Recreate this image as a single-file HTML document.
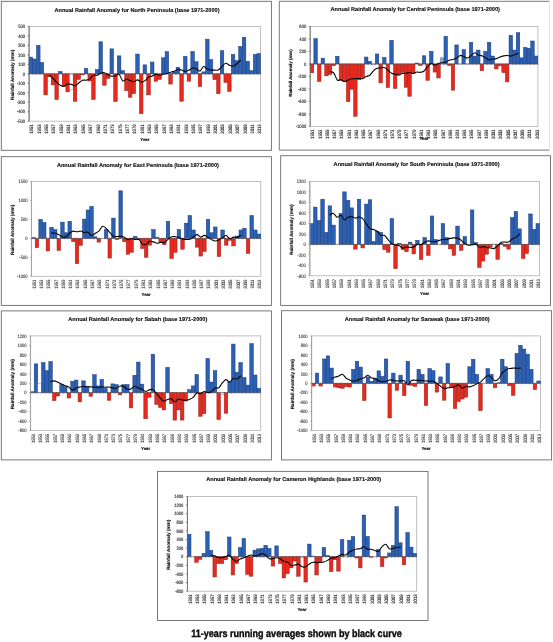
<!DOCTYPE html>
<html><head><meta charset="utf-8"><title>Annual Rainfall Anomaly</title>
<style>html,body{margin:0;padding:0;background:#fff}body{width:553px;height:642px;position:relative;overflow:hidden}</style></head>
<body>
<svg width="553" height="642" viewBox="0 0 553 642" style="display:block;position:absolute;left:0;top:0" font-family="Liberation Sans, Arial, sans-serif" text-rendering="geometricPrecision">
<rect width="553" height="642" fill="#fff"/>
<defs><filter id="sb" x="-5%" y="-5%" width="110%" height="110%"><feGaussianBlur stdDeviation="0.28"/></filter></defs>
<g><rect x="1.3" y="1.3" width="270.1" height="149" fill="#fff" stroke="#6a6a6a" stroke-width="0.9"/><rect x="29.1" y="26.5" width="231.5" height="94.7" fill="#fff" stroke="#b0b0b0" stroke-width="0.8"/><g><rect x="29.15" y="57.09" width="3.57" height="16.76" fill="#2b60b4" stroke="#183a78" stroke-width="0.5"/><rect x="32.82" y="58.98" width="3.57" height="14.87" fill="#2b60b4" stroke="#183a78" stroke-width="0.5"/><rect x="36.5" y="45.35" width="3.57" height="28.5" fill="#2b60b4" stroke="#183a78" stroke-width="0.5"/><rect x="40.17" y="62.49" width="3.57" height="11.36" fill="#2b60b4" stroke="#183a78" stroke-width="0.5"/><rect x="43.85" y="73.85" width="3.57" height="21.02" fill="#e8291e" stroke="#9c1f18" stroke-width="0.5"/><rect x="47.52" y="73.85" width="3.57" height="2.84" fill="#e8291e" stroke="#9c1f18" stroke-width="0.5"/><rect x="51.2" y="73.85" width="3.57" height="10.99" fill="#e8291e" stroke="#9c1f18" stroke-width="0.5"/><rect x="54.87" y="73.85" width="3.57" height="25.76" fill="#e8291e" stroke="#9c1f18" stroke-width="0.5"/><rect x="58.55" y="71.39" width="3.57" height="2.46" fill="#2b60b4" stroke="#183a78" stroke-width="0.5"/><rect x="62.22" y="73.85" width="3.57" height="12.12" fill="#e8291e" stroke="#9c1f18" stroke-width="0.5"/><rect x="65.9" y="73.85" width="3.57" height="17.99" fill="#e8291e" stroke="#9c1f18" stroke-width="0.5"/><rect x="69.57" y="73.85" width="3.57" height="15.63" fill="#fff" stroke="#8a8a8a" stroke-width="0.5"/><rect x="73.25" y="73.85" width="3.57" height="27.46" fill="#e8291e" stroke="#9c1f18" stroke-width="0.5"/><rect x="76.92" y="73.85" width="3.57" height="5.59" fill="#e8291e" stroke="#9c1f18" stroke-width="0.5"/><rect x="80.59" y="73.85" width="3.57" height="1.04" fill="#e8291e" stroke="#9c1f18" stroke-width="0.5"/><rect x="84.27" y="68.36" width="3.57" height="5.49" fill="#2b60b4" stroke="#183a78" stroke-width="0.5"/><rect x="87.94" y="73.85" width="3.57" height="7.1" fill="#e8291e" stroke="#9c1f18" stroke-width="0.5"/><rect x="91.62" y="73.85" width="3.57" height="25.57" fill="#e8291e" stroke="#9c1f18" stroke-width="0.5"/><rect x="95.29" y="69.49" width="3.57" height="4.36" fill="#2b60b4" stroke="#183a78" stroke-width="0.5"/><rect x="98.97" y="41.75" width="3.57" height="32.1" fill="#2b60b4" stroke="#183a78" stroke-width="0.5"/><rect x="102.64" y="73.85" width="3.57" height="11.36" fill="#e8291e" stroke="#9c1f18" stroke-width="0.5"/><rect x="106.32" y="73.85" width="3.57" height="4.64" fill="#e8291e" stroke="#9c1f18" stroke-width="0.5"/><rect x="109.99" y="48.85" width="3.57" height="25" fill="#2b60b4" stroke="#183a78" stroke-width="0.5"/><rect x="113.67" y="73.85" width="3.57" height="27.65" fill="#e8291e" stroke="#9c1f18" stroke-width="0.5"/><rect x="117.34" y="55.86" width="3.57" height="17.99" fill="#2b60b4" stroke="#183a78" stroke-width="0.5"/><rect x="121.02" y="70.72" width="3.57" height="3.13" fill="#2b60b4" stroke="#183a78" stroke-width="0.5"/><rect x="124.69" y="73.85" width="3.57" height="16.86" fill="#e8291e" stroke="#9c1f18" stroke-width="0.5"/><rect x="128.36" y="73.85" width="3.57" height="23.39" fill="#e8291e" stroke="#9c1f18" stroke-width="0.5"/><rect x="132.04" y="73.85" width="3.57" height="19.89" fill="#e8291e" stroke="#9c1f18" stroke-width="0.5"/><rect x="135.71" y="54.06" width="3.57" height="19.79" fill="#2b60b4" stroke="#183a78" stroke-width="0.5"/><rect x="139.39" y="73.85" width="3.57" height="39.87" fill="#e8291e" stroke="#9c1f18" stroke-width="0.5"/><rect x="143.06" y="64.85" width="3.57" height="9" fill="#2b60b4" stroke="#183a78" stroke-width="0.5"/><rect x="146.74" y="73.85" width="3.57" height="21.02" fill="#e8291e" stroke="#9c1f18" stroke-width="0.5"/><rect x="150.41" y="62.01" width="3.57" height="11.84" fill="#2b60b4" stroke="#183a78" stroke-width="0.5"/><rect x="154.09" y="73.85" width="3.57" height="7.39" fill="#e8291e" stroke="#9c1f18" stroke-width="0.5"/><rect x="157.76" y="73.85" width="3.57" height="5.59" fill="#e8291e" stroke="#9c1f18" stroke-width="0.5"/><rect x="161.44" y="57.75" width="3.57" height="16.1" fill="#2b60b4" stroke="#183a78" stroke-width="0.5"/><rect x="165.11" y="51.69" width="3.57" height="22.16" fill="#2b60b4" stroke="#183a78" stroke-width="0.5"/><rect x="168.78" y="73.85" width="3.57" height="10.23" fill="#e8291e" stroke="#9c1f18" stroke-width="0.5"/><rect x="172.46" y="71.86" width="3.57" height="1.99" fill="#2b60b4" stroke="#183a78" stroke-width="0.5"/><rect x="176.13" y="67.22" width="3.57" height="6.63" fill="#2b60b4" stroke="#183a78" stroke-width="0.5"/><rect x="179.81" y="73.85" width="3.57" height="27.37" fill="#e8291e" stroke="#9c1f18" stroke-width="0.5"/><rect x="183.48" y="56.33" width="3.57" height="17.52" fill="#2b60b4" stroke="#183a78" stroke-width="0.5"/><rect x="187.16" y="73.85" width="3.57" height="7.39" fill="#e8291e" stroke="#9c1f18" stroke-width="0.5"/><rect x="190.83" y="51.41" width="3.57" height="22.44" fill="#2b60b4" stroke="#183a78" stroke-width="0.5"/><rect x="194.51" y="61.73" width="3.57" height="12.12" fill="#2b60b4" stroke="#183a78" stroke-width="0.5"/><rect x="198.18" y="73.85" width="3.57" height="12.6" fill="#e8291e" stroke="#9c1f18" stroke-width="0.5"/><rect x="201.86" y="71.86" width="3.57" height="1.99" fill="#2b60b4" stroke="#183a78" stroke-width="0.5"/><rect x="205.53" y="39.19" width="3.57" height="34.66" fill="#2b60b4" stroke="#183a78" stroke-width="0.5"/><rect x="209.21" y="59.65" width="3.57" height="14.2" fill="#2b60b4" stroke="#183a78" stroke-width="0.5"/><rect x="212.88" y="73.85" width="3.57" height="5.78" fill="#e8291e" stroke="#9c1f18" stroke-width="0.5"/><rect x="216.55" y="73.85" width="3.57" height="19.89" fill="#e8291e" stroke="#9c1f18" stroke-width="0.5"/><rect x="220.23" y="50.74" width="3.57" height="23.11" fill="#2b60b4" stroke="#183a78" stroke-width="0.5"/><rect x="223.9" y="73.85" width="3.57" height="8.62" fill="#e8291e" stroke="#9c1f18" stroke-width="0.5"/><rect x="227.58" y="73.85" width="3.57" height="17.52" fill="#e8291e" stroke="#9c1f18" stroke-width="0.5"/><rect x="231.25" y="54.44" width="3.57" height="19.41" fill="#2b60b4" stroke="#183a78" stroke-width="0.5"/><rect x="234.93" y="60.59" width="3.57" height="13.26" fill="#2b60b4" stroke="#183a78" stroke-width="0.5"/><rect x="238.6" y="46.48" width="3.57" height="27.37" fill="#2b60b4" stroke="#183a78" stroke-width="0.5"/><rect x="242.28" y="37.3" width="3.57" height="36.55" fill="#2b60b4" stroke="#183a78" stroke-width="0.5"/><rect x="245.95" y="61.25" width="3.57" height="12.6" fill="#2b60b4" stroke="#183a78" stroke-width="0.5"/><rect x="249.63" y="70.72" width="3.57" height="3.13" fill="#2b60b4" stroke="#183a78" stroke-width="0.5"/><rect x="253.3" y="54.44" width="3.57" height="19.41" fill="#2b60b4" stroke="#183a78" stroke-width="0.5"/><rect x="256.98" y="53.58" width="3.57" height="20.27" fill="#2b60b4" stroke="#183a78" stroke-width="0.5"/></g><path d="M29.1 26.5V121.2" stroke="#5c5c5c" stroke-width="0.9" fill="none"/><path d="M29.1 73.85H260.6" stroke="#5a5a5a" stroke-width="0.6" fill="none"/><path d="M27.5 121.2H29.1M27.5 111.73H29.1M27.5 102.26H29.1M27.5 92.79H29.1M27.5 83.32H29.1M27.5 73.85H29.1M27.5 64.38H29.1M27.5 54.91H29.1M27.5 45.44H29.1M27.5 35.97H29.1M27.5 26.5H29.1" stroke="#5c5c5c" stroke-width="0.7" fill="none"/><g font-size="4.1" fill="#1a1a1a" stroke="#1a1a1a" stroke-width="0.1" filter="url(#sb)"><text transform="translate(25.1 122.95) scale(1 1.18)" text-anchor="end">-500</text><text transform="translate(25.1 113.48) scale(1 1.18)" text-anchor="end">-400</text><text transform="translate(25.1 104.01) scale(1 1.18)" text-anchor="end">-300</text><text transform="translate(25.1 94.54) scale(1 1.18)" text-anchor="end">-200</text><text transform="translate(25.1 85.07) scale(1 1.18)" text-anchor="end">-100</text><text transform="translate(25.1 75.6) scale(1 1.18)" text-anchor="end">0</text><text transform="translate(25.1 66.13) scale(1 1.18)" text-anchor="end">100</text><text transform="translate(25.1 56.66) scale(1 1.18)" text-anchor="end">200</text><text transform="translate(25.1 47.19) scale(1 1.18)" text-anchor="end">300</text><text transform="translate(25.1 37.72) scale(1 1.18)" text-anchor="end">400</text><text transform="translate(25.1 28.25) scale(1 1.18)" text-anchor="end">500</text></g><path d="M29.1 73.85v1.2M32.77 73.85v1.2M36.45 73.85v1.2M40.12 73.85v1.2M43.8 73.85v1.2M47.47 73.85v1.2M51.15 73.85v1.2M54.82 73.85v1.2M58.5 73.85v1.2M62.17 73.85v1.2M65.85 73.85v1.2M69.52 73.85v1.2M73.2 73.85v1.2M76.87 73.85v1.2M80.54 73.85v1.2M84.22 73.85v1.2M87.89 73.85v1.2M91.57 73.85v1.2M95.24 73.85v1.2M98.92 73.85v1.2M102.59 73.85v1.2M106.27 73.85v1.2M109.94 73.85v1.2M113.62 73.85v1.2M117.29 73.85v1.2M120.97 73.85v1.2M124.64 73.85v1.2M128.31 73.85v1.2M131.99 73.85v1.2M135.66 73.85v1.2M139.34 73.85v1.2M143.01 73.85v1.2M146.69 73.85v1.2M150.36 73.85v1.2M154.04 73.85v1.2M157.71 73.85v1.2M161.39 73.85v1.2M165.06 73.85v1.2M168.73 73.85v1.2M172.41 73.85v1.2M176.08 73.85v1.2M179.76 73.85v1.2M183.43 73.85v1.2M187.11 73.85v1.2M190.78 73.85v1.2M194.46 73.85v1.2M198.13 73.85v1.2M201.81 73.85v1.2M205.48 73.85v1.2M209.16 73.85v1.2M212.83 73.85v1.2M216.5 73.85v1.2M220.18 73.85v1.2M223.85 73.85v1.2M227.53 73.85v1.2M231.2 73.85v1.2M234.88 73.85v1.2M238.55 73.85v1.2M242.23 73.85v1.2M245.9 73.85v1.2M249.58 73.85v1.2M253.25 73.85v1.2M256.93 73.85v1.2M260.6 73.85v1.2" stroke="#5a5a5a" stroke-width="0.4" fill="none"/><g font-size="4.15" fill="#1a1a1a" stroke="#1a1a1a" stroke-width="0.1" filter="url(#sb)"><text transform="translate(33.39 124.5) rotate(-90) scale(1 1.18)" text-anchor="end">1951</text><text transform="translate(40.74 124.5) rotate(-90) scale(1 1.18)" text-anchor="end">1953</text><text transform="translate(48.09 124.5) rotate(-90) scale(1 1.18)" text-anchor="end">1955</text><text transform="translate(55.43 124.5) rotate(-90) scale(1 1.18)" text-anchor="end">1957</text><text transform="translate(62.78 124.5) rotate(-90) scale(1 1.18)" text-anchor="end">1959</text><text transform="translate(70.13 124.5) rotate(-90) scale(1 1.18)" text-anchor="end">1961</text><text transform="translate(77.48 124.5) rotate(-90) scale(1 1.18)" text-anchor="end">1963</text><text transform="translate(84.83 124.5) rotate(-90) scale(1 1.18)" text-anchor="end">1965</text><text transform="translate(92.18 124.5) rotate(-90) scale(1 1.18)" text-anchor="end">1967</text><text transform="translate(99.53 124.5) rotate(-90) scale(1 1.18)" text-anchor="end">1969</text><text transform="translate(106.88 124.5) rotate(-90) scale(1 1.18)" text-anchor="end">1971</text><text transform="translate(114.23 124.5) rotate(-90) scale(1 1.18)" text-anchor="end">1973</text><text transform="translate(121.58 124.5) rotate(-90) scale(1 1.18)" text-anchor="end">1975</text><text transform="translate(128.93 124.5) rotate(-90) scale(1 1.18)" text-anchor="end">1977</text><text transform="translate(136.28 124.5) rotate(-90) scale(1 1.18)" text-anchor="end">1979</text><text transform="translate(143.63 124.5) rotate(-90) scale(1 1.18)" text-anchor="end">1981</text><text transform="translate(150.97 124.5) rotate(-90) scale(1 1.18)" text-anchor="end">1983</text><text transform="translate(158.32 124.5) rotate(-90) scale(1 1.18)" text-anchor="end">1985</text><text transform="translate(165.67 124.5) rotate(-90) scale(1 1.18)" text-anchor="end">1987</text><text transform="translate(173.02 124.5) rotate(-90) scale(1 1.18)" text-anchor="end">1989</text><text transform="translate(180.37 124.5) rotate(-90) scale(1 1.18)" text-anchor="end">1991</text><text transform="translate(187.72 124.5) rotate(-90) scale(1 1.18)" text-anchor="end">1993</text><text transform="translate(195.07 124.5) rotate(-90) scale(1 1.18)" text-anchor="end">1995</text><text transform="translate(202.42 124.5) rotate(-90) scale(1 1.18)" text-anchor="end">1997</text><text transform="translate(209.77 124.5) rotate(-90) scale(1 1.18)" text-anchor="end">1999</text><text transform="translate(217.12 124.5) rotate(-90) scale(1 1.18)" text-anchor="end">2001</text><text transform="translate(224.47 124.5) rotate(-90) scale(1 1.18)" text-anchor="end">2003</text><text transform="translate(231.82 124.5) rotate(-90) scale(1 1.18)" text-anchor="end">2005</text><text transform="translate(239.17 124.5) rotate(-90) scale(1 1.18)" text-anchor="end">2007</text><text transform="translate(246.51 124.5) rotate(-90) scale(1 1.18)" text-anchor="end">2009</text><text transform="translate(253.86 124.5) rotate(-90) scale(1 1.18)" text-anchor="end">2011</text><text transform="translate(261.21 124.5) rotate(-90) scale(1 1.18)" text-anchor="end">2013</text></g><path d="M49.31 75.37C49.92 75.86 51.76 77.19 52.98 78.32C54.21 79.45 55.43 81.01 56.66 82.17C57.88 83.32 59.11 84.56 60.33 85.27C61.56 85.97 62.78 86.61 64.01 86.39C65.23 86.18 66.46 84.32 67.68 83.98C68.91 83.65 70.13 84.08 71.36 84.37C72.58 84.66 73.81 85.93 75.03 85.7C76.26 85.46 77.48 83.86 78.71 82.96C79.93 82.05 81.16 80.72 82.38 80.26C83.61 79.8 84.83 80.41 86.06 80.19C87.28 79.98 88.51 79.8 89.73 78.98C90.96 78.16 92.18 75.9 93.41 75.29C94.63 74.68 95.86 75.66 97.08 75.3C98.31 74.95 99.53 73.58 100.75 73.16C101.98 72.74 103.2 72.51 104.43 72.78C105.65 73.06 106.88 74.23 108.1 74.81C109.33 75.4 110.55 76.13 111.78 76.29C113 76.46 114.23 76.1 115.45 75.78C116.68 75.46 117.9 73.52 119.13 74.38C120.35 75.23 121.58 80.14 122.8 80.92C124.03 81.7 125.25 79.13 126.48 79.07C127.7 79.01 128.93 80.11 130.15 80.56C131.38 81 132.6 81.86 133.83 81.75C135.05 81.65 136.28 79.86 137.5 79.91C138.73 79.96 139.95 81.89 141.18 82.05C142.4 82.22 143.63 81.66 144.85 80.88C146.07 80.09 147.3 78.12 148.52 77.33C149.75 76.54 150.97 76.66 152.2 76.13C153.42 75.6 154.65 74.27 155.87 74.14C157.1 74.01 158.32 75.33 159.55 75.34C160.77 75.35 162 74.52 163.22 74.2C164.45 73.88 165.67 73.76 166.9 73.43C168.12 73.09 169.35 72.56 170.57 72.19C171.8 71.82 173.02 71.68 174.25 71.22C175.47 70.77 176.7 69.64 177.92 69.45C179.15 69.26 180.37 69.77 181.6 70.09C182.82 70.41 184.05 71.35 185.27 71.37C186.5 71.39 187.72 70.79 188.95 70.23C190.17 69.67 191.39 68.27 192.62 68.01C193.84 67.76 195.07 68.2 196.29 68.72C197.52 69.24 198.74 71.49 199.97 71.13C201.19 70.77 202.42 66.91 203.64 66.54C204.87 66.17 206.09 68.37 207.32 68.92C208.54 69.47 209.77 69.64 210.99 69.84C212.22 70.04 213.44 70.08 214.67 70.11C215.89 70.14 217.12 70.63 218.34 70.01C219.57 69.39 220.79 67.51 222.02 66.38C223.24 65.25 224.47 63.42 225.69 63.23C226.92 63.05 228.14 64.74 229.37 65.24C230.59 65.74 231.82 66.46 233.04 66.25C234.27 66.03 235.49 64.95 236.72 63.96C237.94 62.97 239.78 60.92 240.39 60.31" fill="none" stroke="#050505" stroke-width="1.1" stroke-linejoin="round" stroke-linecap="round"/><text x="137" y="11.8" font-size="5.58" font-weight="bold" text-anchor="middle" fill="#111" stroke="#111" stroke-width="0.14">Annual Rainfall Anomaly for North Peninsula (base 1971-2000)</text><text transform="translate(13.7 74.85) rotate(-90)" font-size="4.65" font-weight="bold" text-anchor="middle" fill="#111" stroke="#111" stroke-width="0.15">Rainfall Anomaly (mm)</text><text x="144.85" y="140.5" font-size="4.35" font-weight="bold" text-anchor="middle" fill="#111" stroke="#111" stroke-width="0.15">Year</text></g>
<g><path d="M549.5 1.3H279.3V150.1H549.5" fill="none" stroke="#6a6a6a" stroke-width="0.9"/><path d="M549.5 1.3V150.1" fill="none" stroke="#e4e4e4" stroke-width="0.9"/><rect x="310.2" y="26.5" width="227.7" height="99.9" fill="#fff" stroke="#b0b0b0" stroke-width="0.8"/><g><rect x="310.25" y="63.96" width="3.51" height="8.8" fill="#e8291e" stroke="#9c1f18" stroke-width="0.5"/><rect x="313.86" y="38.68" width="3.51" height="25.29" fill="#2b60b4" stroke="#183a78" stroke-width="0.5"/><rect x="317.48" y="63.96" width="3.51" height="17.48" fill="#e8291e" stroke="#9c1f18" stroke-width="0.5"/><rect x="321.09" y="58.16" width="3.51" height="5.81" fill="#2b60b4" stroke="#183a78" stroke-width="0.5"/><rect x="324.71" y="63.96" width="3.51" height="11.86" fill="#e8291e" stroke="#9c1f18" stroke-width="0.5"/><rect x="328.32" y="63.96" width="3.51" height="10.68" fill="#e8291e" stroke="#9c1f18" stroke-width="0.5"/><rect x="331.94" y="63.96" width="3.51" height="1.75" fill="#e8291e" stroke="#9c1f18" stroke-width="0.5"/><rect x="335.55" y="56.28" width="3.51" height="7.68" fill="#2b60b4" stroke="#183a78" stroke-width="0.5"/><rect x="339.16" y="63.96" width="3.51" height="15.86" fill="#e8291e" stroke="#9c1f18" stroke-width="0.5"/><rect x="342.78" y="63.96" width="3.51" height="17.05" fill="#e8291e" stroke="#9c1f18" stroke-width="0.5"/><rect x="346.39" y="63.96" width="3.51" height="37.71" fill="#e8291e" stroke="#9c1f18" stroke-width="0.5"/><rect x="350.01" y="63.96" width="3.51" height="25.29" fill="#e8291e" stroke="#9c1f18" stroke-width="0.5"/><rect x="353.62" y="63.96" width="3.51" height="52.32" fill="#e8291e" stroke="#9c1f18" stroke-width="0.5"/><rect x="357.24" y="63.96" width="3.51" height="15.86" fill="#e8291e" stroke="#9c1f18" stroke-width="0.5"/><rect x="360.85" y="63.96" width="3.51" height="13.49" fill="#e8291e" stroke="#9c1f18" stroke-width="0.5"/><rect x="364.46" y="57.03" width="3.51" height="6.93" fill="#2b60b4" stroke="#183a78" stroke-width="0.5"/><rect x="368.08" y="61.47" width="3.51" height="2.5" fill="#2b60b4" stroke="#183a78" stroke-width="0.5"/><rect x="371.69" y="63.96" width="3.51" height="0.94" fill="#fff" stroke="#8a8a8a" stroke-width="0.5"/><rect x="375.31" y="53.97" width="3.51" height="9.99" fill="#2b60b4" stroke="#183a78" stroke-width="0.5"/><rect x="378.92" y="63.96" width="3.51" height="18.92" fill="#e8291e" stroke="#9c1f18" stroke-width="0.5"/><rect x="382.54" y="57.47" width="3.51" height="6.49" fill="#2b60b4" stroke="#183a78" stroke-width="0.5"/><rect x="386.15" y="63.96" width="3.51" height="23.6" fill="#e8291e" stroke="#9c1f18" stroke-width="0.5"/><rect x="389.76" y="40.3" width="3.51" height="23.66" fill="#2b60b4" stroke="#183a78" stroke-width="0.5"/><rect x="393.38" y="63.96" width="3.51" height="24.54" fill="#e8291e" stroke="#9c1f18" stroke-width="0.5"/><rect x="396.99" y="63.96" width="3.51" height="11.18" fill="#e8291e" stroke="#9c1f18" stroke-width="0.5"/><rect x="400.61" y="63.96" width="3.51" height="8.3" fill="#e8291e" stroke="#9c1f18" stroke-width="0.5"/><rect x="404.22" y="63.96" width="3.51" height="23.35" fill="#e8291e" stroke="#9c1f18" stroke-width="0.5"/><rect x="407.84" y="63.96" width="3.51" height="32.34" fill="#e8291e" stroke="#9c1f18" stroke-width="0.5"/><rect x="411.45" y="63.96" width="3.51" height="9.49" fill="#e8291e" stroke="#9c1f18" stroke-width="0.5"/><rect x="415.06" y="63.03" width="3.51" height="0.94" fill="#2b60b4" stroke="#183a78" stroke-width="0.5"/><rect x="418.68" y="63.96" width="3.51" height="1.56" fill="#e8291e" stroke="#9c1f18" stroke-width="0.5"/><rect x="422.29" y="55.78" width="3.51" height="8.18" fill="#2b60b4" stroke="#183a78" stroke-width="0.5"/><rect x="425.91" y="63.96" width="3.51" height="16.36" fill="#e8291e" stroke="#9c1f18" stroke-width="0.5"/><rect x="429.52" y="51.35" width="3.51" height="12.61" fill="#2b60b4" stroke="#183a78" stroke-width="0.5"/><rect x="433.14" y="63.96" width="3.51" height="8.12" fill="#e8291e" stroke="#9c1f18" stroke-width="0.5"/><rect x="436.75" y="63.96" width="3.51" height="14.05" fill="#e8291e" stroke="#9c1f18" stroke-width="0.5"/><rect x="440.36" y="57.84" width="3.51" height="6.12" fill="#8fa6c8" stroke="#5a6f92" stroke-width="0.5"/><rect x="443.98" y="36.37" width="3.51" height="27.6" fill="#2b60b4" stroke="#183a78" stroke-width="0.5"/><rect x="447.59" y="63.96" width="3.51" height="1.56" fill="#e8291e" stroke="#9c1f18" stroke-width="0.5"/><rect x="451.21" y="63.96" width="3.51" height="26.22" fill="#e8291e" stroke="#9c1f18" stroke-width="0.5"/><rect x="454.82" y="44.92" width="3.51" height="19.04" fill="#2b60b4" stroke="#183a78" stroke-width="0.5"/><rect x="458.44" y="56.97" width="3.51" height="6.99" fill="#fff" stroke="#8a8a8a" stroke-width="0.5"/><rect x="462.05" y="49.54" width="3.51" height="14.42" fill="#2b60b4" stroke="#183a78" stroke-width="0.5"/><rect x="465.66" y="59.9" width="3.51" height="4.06" fill="#fff" stroke="#8a8a8a" stroke-width="0.5"/><rect x="469.28" y="42.3" width="3.51" height="21.67" fill="#2b60b4" stroke="#183a78" stroke-width="0.5"/><rect x="472.89" y="56.03" width="3.51" height="7.93" fill="#2b60b4" stroke="#183a78" stroke-width="0.5"/><rect x="476.51" y="50.04" width="3.51" height="13.92" fill="#2b60b4" stroke="#183a78" stroke-width="0.5"/><rect x="480.12" y="63.96" width="3.51" height="6.81" fill="#e8291e" stroke="#9c1f18" stroke-width="0.5"/><rect x="483.74" y="51.35" width="3.51" height="12.61" fill="#2b60b4" stroke="#183a78" stroke-width="0.5"/><rect x="487.35" y="42.3" width="3.51" height="21.67" fill="#2b60b4" stroke="#183a78" stroke-width="0.5"/><rect x="490.96" y="56.03" width="3.51" height="7.93" fill="#2b60b4" stroke="#183a78" stroke-width="0.5"/><rect x="494.58" y="63.96" width="3.51" height="5" fill="#e8291e" stroke="#9c1f18" stroke-width="0.5"/><rect x="498.19" y="63.96" width="3.51" height="1.87" fill="#e8291e" stroke="#9c1f18" stroke-width="0.5"/><rect x="501.81" y="63.96" width="3.51" height="8.62" fill="#e8291e" stroke="#9c1f18" stroke-width="0.5"/><rect x="505.42" y="63.96" width="3.51" height="17.92" fill="#e8291e" stroke="#9c1f18" stroke-width="0.5"/><rect x="509.04" y="35.3" width="3.51" height="28.66" fill="#2b60b4" stroke="#183a78" stroke-width="0.5"/><rect x="512.65" y="50.04" width="3.51" height="13.92" fill="#2b60b4" stroke="#183a78" stroke-width="0.5"/><rect x="516.26" y="32.74" width="3.51" height="31.22" fill="#2b60b4" stroke="#183a78" stroke-width="0.5"/><rect x="519.88" y="57.84" width="3.51" height="6.12" fill="#2b60b4" stroke="#183a78" stroke-width="0.5"/><rect x="523.49" y="47.48" width="3.51" height="16.48" fill="#2b60b4" stroke="#183a78" stroke-width="0.5"/><rect x="527.11" y="48.23" width="3.51" height="15.73" fill="#2b60b4" stroke="#183a78" stroke-width="0.5"/><rect x="530.72" y="40.99" width="3.51" height="22.98" fill="#2b60b4" stroke="#183a78" stroke-width="0.5"/><rect x="534.34" y="56.03" width="3.51" height="7.93" fill="#2b60b4" stroke="#183a78" stroke-width="0.5"/></g><path d="M310.2 26.5V126.4" stroke="#686868" stroke-width="0.9" fill="none"/><path d="M310.2 63.96H537.9" stroke="#5a5a5a" stroke-width="0.6" fill="none"/><path d="M308.6 126.4H310.2M308.6 113.91H310.2M308.6 101.43H310.2M308.6 88.94H310.2M308.6 76.45H310.2M308.6 63.96H310.2M308.6 51.48H310.2M308.6 38.99H310.2M308.6 26.5H310.2" stroke="#686868" stroke-width="0.7" fill="none"/><g font-size="4.1" fill="#1a1a1a" stroke="#1a1a1a" stroke-width="0.1" filter="url(#sb)"><text transform="translate(306.2 128.15) scale(1 1.18)" text-anchor="end">-1000</text><text transform="translate(306.2 115.66) scale(1 1.18)" text-anchor="end">-800</text><text transform="translate(306.2 103.18) scale(1 1.18)" text-anchor="end">-600</text><text transform="translate(306.2 90.69) scale(1 1.18)" text-anchor="end">-400</text><text transform="translate(306.2 78.2) scale(1 1.18)" text-anchor="end">-200</text><text transform="translate(306.2 65.71) scale(1 1.18)" text-anchor="end">0</text><text transform="translate(306.2 53.23) scale(1 1.18)" text-anchor="end">200</text><text transform="translate(306.2 40.74) scale(1 1.18)" text-anchor="end">400</text><text transform="translate(306.2 28.25) scale(1 1.18)" text-anchor="end">600</text></g><path d="M310.2 63.96v1.2M313.81 63.96v1.2M317.43 63.96v1.2M321.04 63.96v1.2M324.66 63.96v1.2M328.27 63.96v1.2M331.89 63.96v1.2M335.5 63.96v1.2M339.11 63.96v1.2M342.73 63.96v1.2M346.34 63.96v1.2M349.96 63.96v1.2M353.57 63.96v1.2M357.19 63.96v1.2M360.8 63.96v1.2M364.41 63.96v1.2M368.03 63.96v1.2M371.64 63.96v1.2M375.26 63.96v1.2M378.87 63.96v1.2M382.49 63.96v1.2M386.1 63.96v1.2M389.71 63.96v1.2M393.33 63.96v1.2M396.94 63.96v1.2M400.56 63.96v1.2M404.17 63.96v1.2M407.79 63.96v1.2M411.4 63.96v1.2M415.01 63.96v1.2M418.63 63.96v1.2M422.24 63.96v1.2M425.86 63.96v1.2M429.47 63.96v1.2M433.09 63.96v1.2M436.7 63.96v1.2M440.31 63.96v1.2M443.93 63.96v1.2M447.54 63.96v1.2M451.16 63.96v1.2M454.77 63.96v1.2M458.39 63.96v1.2M462 63.96v1.2M465.61 63.96v1.2M469.23 63.96v1.2M472.84 63.96v1.2M476.46 63.96v1.2M480.07 63.96v1.2M483.69 63.96v1.2M487.3 63.96v1.2M490.91 63.96v1.2M494.53 63.96v1.2M498.14 63.96v1.2M501.76 63.96v1.2M505.37 63.96v1.2M508.99 63.96v1.2M512.6 63.96v1.2M516.21 63.96v1.2M519.83 63.96v1.2M523.44 63.96v1.2M527.06 63.96v1.2M530.67 63.96v1.2M534.29 63.96v1.2M537.9 63.96v1.2" stroke="#5a5a5a" stroke-width="0.4" fill="none"/><g font-size="4.15" fill="#1a1a1a" stroke="#1a1a1a" stroke-width="0.1" filter="url(#sb)"><text transform="translate(314.46 129.7) rotate(-90) scale(1 1.18)" text-anchor="end">1951</text><text transform="translate(321.69 129.7) rotate(-90) scale(1 1.18)" text-anchor="end">1953</text><text transform="translate(328.91 129.7) rotate(-90) scale(1 1.18)" text-anchor="end">1955</text><text transform="translate(336.14 129.7) rotate(-90) scale(1 1.18)" text-anchor="end">1957</text><text transform="translate(343.37 129.7) rotate(-90) scale(1 1.18)" text-anchor="end">1959</text><text transform="translate(350.6 129.7) rotate(-90) scale(1 1.18)" text-anchor="end">1961</text><text transform="translate(357.83 129.7) rotate(-90) scale(1 1.18)" text-anchor="end">1963</text><text transform="translate(365.06 129.7) rotate(-90) scale(1 1.18)" text-anchor="end">1965</text><text transform="translate(372.29 129.7) rotate(-90) scale(1 1.18)" text-anchor="end">1967</text><text transform="translate(379.51 129.7) rotate(-90) scale(1 1.18)" text-anchor="end">1969</text><text transform="translate(386.74 129.7) rotate(-90) scale(1 1.18)" text-anchor="end">1971</text><text transform="translate(393.97 129.7) rotate(-90) scale(1 1.18)" text-anchor="end">1973</text><text transform="translate(401.2 129.7) rotate(-90) scale(1 1.18)" text-anchor="end">1975</text><text transform="translate(408.43 129.7) rotate(-90) scale(1 1.18)" text-anchor="end">1977</text><text transform="translate(415.66 129.7) rotate(-90) scale(1 1.18)" text-anchor="end">1979</text><text transform="translate(422.89 129.7) rotate(-90) scale(1 1.18)" text-anchor="end">1981</text><text transform="translate(430.11 129.7) rotate(-90) scale(1 1.18)" text-anchor="end">1983</text><text transform="translate(437.34 129.7) rotate(-90) scale(1 1.18)" text-anchor="end">1985</text><text transform="translate(444.57 129.7) rotate(-90) scale(1 1.18)" text-anchor="end">1987</text><text transform="translate(451.8 129.7) rotate(-90) scale(1 1.18)" text-anchor="end">1989</text><text transform="translate(459.03 129.7) rotate(-90) scale(1 1.18)" text-anchor="end">1991</text><text transform="translate(466.26 129.7) rotate(-90) scale(1 1.18)" text-anchor="end">1993</text><text transform="translate(473.49 129.7) rotate(-90) scale(1 1.18)" text-anchor="end">1995</text><text transform="translate(480.71 129.7) rotate(-90) scale(1 1.18)" text-anchor="end">1997</text><text transform="translate(487.94 129.7) rotate(-90) scale(1 1.18)" text-anchor="end">1999</text><text transform="translate(495.17 129.7) rotate(-90) scale(1 1.18)" text-anchor="end">2001</text><text transform="translate(502.4 129.7) rotate(-90) scale(1 1.18)" text-anchor="end">2003</text><text transform="translate(509.63 129.7) rotate(-90) scale(1 1.18)" text-anchor="end">2005</text><text transform="translate(516.86 129.7) rotate(-90) scale(1 1.18)" text-anchor="end">2007</text><text transform="translate(524.09 129.7) rotate(-90) scale(1 1.18)" text-anchor="end">2009</text><text transform="translate(531.31 129.7) rotate(-90) scale(1 1.18)" text-anchor="end">2011</text><text transform="translate(538.54 129.7) rotate(-90) scale(1 1.18)" text-anchor="end">2013</text></g><path d="M330.08 71.46C330.68 71.7 332.49 71.53 333.69 72.95C334.9 74.38 336.1 78.86 337.31 80.01C338.51 81.16 339.72 79.59 340.92 79.86C342.13 80.13 343.33 81.61 344.54 81.62C345.74 81.62 346.95 80.39 348.15 79.91C349.35 79.42 350.56 78.92 351.76 78.71C352.97 78.5 354.17 78.68 355.38 78.64C356.58 78.59 357.79 78.41 358.99 78.43C360.2 78.44 361.4 79.01 362.61 78.7C363.81 78.39 365.02 77.13 366.22 76.56C367.43 75.99 368.63 76.24 369.84 75.28C371.04 74.33 372.25 71.99 373.45 70.83C374.65 69.67 375.86 68.8 377.06 68.3C378.27 67.81 379.47 68.03 380.68 67.88C381.88 67.73 383.09 67.03 384.29 67.41C385.5 67.79 386.7 69.17 387.91 70.16C389.11 71.15 390.32 72.67 391.52 73.33C392.73 73.99 393.93 73.84 395.14 74.11C396.34 74.37 397.55 75.05 398.75 74.93C399.95 74.8 401.16 73.64 402.36 73.35C403.57 73.06 404.77 73.33 405.98 73.2C407.18 73.06 408.39 72.48 409.59 72.54C410.8 72.6 412 73.63 413.21 73.54C414.41 73.46 415.62 72.26 416.82 72.05C418.03 71.85 419.23 72.49 420.44 72.31C421.64 72.14 422.85 71.99 424.05 71C425.25 70.01 426.46 67.61 427.66 66.37C428.87 65.13 430.07 63.78 431.28 63.57C432.48 63.36 433.69 65.11 434.89 65.09C436.1 65.07 437.3 63.85 438.51 63.45C439.71 63.04 440.92 62.89 442.12 62.67C443.33 62.44 444.53 62.5 445.74 62.1C446.94 61.7 448.15 60.69 449.35 60.24C450.55 59.8 451.76 59.8 452.96 59.42C454.17 59.04 455.37 58.63 456.58 57.96C457.78 57.3 458.99 55.65 460.19 55.42C461.4 55.19 462.6 56.17 463.81 56.59C465.01 57.02 466.22 58.08 467.42 57.96C468.63 57.83 469.83 56.72 471.04 55.85C472.24 54.98 473.45 52.89 474.65 52.74C475.85 52.59 477.06 54.43 478.26 54.93C479.47 55.42 480.67 55.25 481.88 55.73C483.08 56.22 484.29 57.14 485.49 57.83C486.7 58.51 487.9 59.6 489.11 59.82C490.31 60.05 491.52 59.39 492.72 59.19C493.93 58.99 495.13 59 496.34 58.64C497.54 58.29 498.75 57.53 499.95 57.07C501.15 56.61 502.36 56.15 503.56 55.9C504.77 55.64 505.97 55.51 507.18 55.54C508.38 55.58 509.59 56.22 510.79 56.08C512 55.95 513.2 55.14 514.41 54.72C515.61 54.29 517.42 53.74 518.02 53.54" fill="none" stroke="#050505" stroke-width="1.1" stroke-linejoin="round" stroke-linecap="round"/><text x="415.25" y="11" font-size="5.58" font-weight="bold" text-anchor="middle" fill="#111" stroke="#111" stroke-width="0.14">Annual Rainfall Anomaly for Central Peninsula (base 1971-2000)</text><text transform="translate(291.7 73.05) rotate(-90)" font-size="4.4" font-weight="bold" text-anchor="middle" fill="#111" stroke="#111" stroke-width="0.15">Rainfall Anomaly (mm)</text><text x="424.05" y="139.7" font-size="4.35" font-weight="bold" text-anchor="middle" fill="#111" stroke="#111" stroke-width="0.15">Year</text></g>
<g><rect x="1.3" y="156.7" width="270.1" height="148.7" fill="#fff" stroke="#6a6a6a" stroke-width="0.9"/><rect x="31.5" y="181.4" width="229.3" height="94.9" fill="#fff" stroke="#b0b0b0" stroke-width="0.8"/><g><rect x="31.55" y="237.58" width="3.54" height="0.76" fill="#2b60b4" stroke="#183a78" stroke-width="0.5"/><rect x="35.19" y="238.34" width="3.54" height="9.38" fill="#e8291e" stroke="#9c1f18" stroke-width="0.5"/><rect x="38.83" y="219.36" width="3.54" height="18.98" fill="#2b60b4" stroke="#183a78" stroke-width="0.5"/><rect x="42.47" y="222.4" width="3.54" height="15.94" fill="#2b60b4" stroke="#183a78" stroke-width="0.5"/><rect x="46.11" y="238.34" width="3.54" height="12.64" fill="#e8291e" stroke="#9c1f18" stroke-width="0.5"/><rect x="49.75" y="227.22" width="3.54" height="11.12" fill="#2b60b4" stroke="#183a78" stroke-width="0.5"/><rect x="53.39" y="229.5" width="3.54" height="8.84" fill="#2b60b4" stroke="#183a78" stroke-width="0.5"/><rect x="57.03" y="238.34" width="3.54" height="12.15" fill="#e8291e" stroke="#9c1f18" stroke-width="0.5"/><rect x="60.67" y="222.13" width="3.54" height="16.21" fill="#2b60b4" stroke="#183a78" stroke-width="0.5"/><rect x="64.31" y="232.76" width="3.54" height="5.58" fill="#2b60b4" stroke="#183a78" stroke-width="0.5"/><rect x="67.95" y="221.37" width="3.54" height="16.97" fill="#2b60b4" stroke="#183a78" stroke-width="0.5"/><rect x="71.59" y="238.34" width="3.54" height="3.3" fill="#e8291e" stroke="#9c1f18" stroke-width="0.5"/><rect x="75.23" y="238.34" width="3.54" height="25.32" fill="#e8291e" stroke="#9c1f18" stroke-width="0.5"/><rect x="78.87" y="238.34" width="3.54" height="7.1" fill="#e8291e" stroke="#9c1f18" stroke-width="0.5"/><rect x="82.51" y="219.09" width="3.54" height="19.25" fill="#2b60b4" stroke="#183a78" stroke-width="0.5"/><rect x="86.15" y="209.98" width="3.54" height="28.36" fill="#2b60b4" stroke="#183a78" stroke-width="0.5"/><rect x="89.78" y="206.45" width="3.54" height="31.89" fill="#2b60b4" stroke="#183a78" stroke-width="0.5"/><rect x="93.42" y="236.82" width="3.54" height="1.52" fill="#2b60b4" stroke="#183a78" stroke-width="0.5"/><rect x="97.06" y="238.34" width="3.54" height="3.8" fill="#e8291e" stroke="#9c1f18" stroke-width="0.5"/><rect x="104.34" y="229.5" width="3.54" height="8.84" fill="#2b60b4" stroke="#183a78" stroke-width="0.5"/><rect x="107.98" y="238.34" width="3.54" height="19.74" fill="#e8291e" stroke="#9c1f18" stroke-width="0.5"/><rect x="111.62" y="218.11" width="3.54" height="20.23" fill="#2b60b4" stroke="#183a78" stroke-width="0.5"/><rect x="115.26" y="238.34" width="3.54" height="1.25" fill="#e8291e" stroke="#9c1f18" stroke-width="0.5"/><rect x="118.9" y="190.78" width="3.54" height="47.56" fill="#2b60b4" stroke="#183a78" stroke-width="0.5"/><rect x="122.54" y="238.34" width="3.54" height="3.3" fill="#e8291e" stroke="#9c1f18" stroke-width="0.5"/><rect x="126.18" y="238.34" width="3.54" height="15.94" fill="#e8291e" stroke="#9c1f18" stroke-width="0.5"/><rect x="129.82" y="238.34" width="3.54" height="13.93" fill="#e8291e" stroke="#9c1f18" stroke-width="0.5"/><rect x="133.46" y="236.33" width="3.54" height="2.01" fill="#2b60b4" stroke="#183a78" stroke-width="0.5"/><rect x="137.1" y="238.34" width="3.54" height="1.52" fill="#e8291e" stroke="#9c1f18" stroke-width="0.5"/><rect x="140.74" y="238.34" width="3.54" height="10.14" fill="#e8291e" stroke="#9c1f18" stroke-width="0.5"/><rect x="144.38" y="238.34" width="3.54" height="18.98" fill="#e8291e" stroke="#9c1f18" stroke-width="0.5"/><rect x="148.02" y="238.34" width="3.54" height="6.83" fill="#e8291e" stroke="#9c1f18" stroke-width="0.5"/><rect x="151.66" y="229.5" width="3.54" height="8.84" fill="#2b60b4" stroke="#183a78" stroke-width="0.5"/><rect x="155.3" y="237.2" width="3.54" height="1.14" fill="#2b60b4" stroke="#183a78" stroke-width="0.5"/><rect x="158.94" y="238.34" width="3.54" height="3.8" fill="#e8291e" stroke="#9c1f18" stroke-width="0.5"/><rect x="162.58" y="238.34" width="3.54" height="6.34" fill="#e8291e" stroke="#9c1f18" stroke-width="0.5"/><rect x="166.22" y="221.37" width="3.54" height="16.97" fill="#2b60b4" stroke="#183a78" stroke-width="0.5"/><rect x="169.86" y="238.34" width="3.54" height="20.23" fill="#e8291e" stroke="#9c1f18" stroke-width="0.5"/><rect x="173.5" y="238.34" width="3.54" height="13.93" fill="#e8291e" stroke="#9c1f18" stroke-width="0.5"/><rect x="177.14" y="229.5" width="3.54" height="8.84" fill="#2b60b4" stroke="#183a78" stroke-width="0.5"/><rect x="180.78" y="238.34" width="3.54" height="10.89" fill="#e8291e" stroke="#9c1f18" stroke-width="0.5"/><rect x="184.42" y="223.16" width="3.54" height="15.18" fill="#2b60b4" stroke="#183a78" stroke-width="0.5"/><rect x="188.06" y="215.56" width="3.54" height="22.78" fill="#2b60b4" stroke="#183a78" stroke-width="0.5"/><rect x="191.7" y="229.99" width="3.54" height="8.35" fill="#2b60b4" stroke="#183a78" stroke-width="0.5"/><rect x="195.34" y="238.34" width="3.54" height="8.84" fill="#e8291e" stroke="#9c1f18" stroke-width="0.5"/><rect x="198.98" y="238.34" width="3.54" height="17.73" fill="#e8291e" stroke="#9c1f18" stroke-width="0.5"/><rect x="202.62" y="238.34" width="3.54" height="13.17" fill="#e8291e" stroke="#9c1f18" stroke-width="0.5"/><rect x="206.25" y="219.36" width="3.54" height="18.98" fill="#2b60b4" stroke="#183a78" stroke-width="0.5"/><rect x="209.89" y="232.76" width="3.54" height="5.58" fill="#2b60b4" stroke="#183a78" stroke-width="0.5"/><rect x="213.53" y="226.95" width="3.54" height="11.39" fill="#2b60b4" stroke="#183a78" stroke-width="0.5"/><rect x="217.17" y="238.34" width="3.54" height="18.22" fill="#e8291e" stroke="#9c1f18" stroke-width="0.5"/><rect x="220.81" y="229.99" width="3.54" height="8.35" fill="#2b60b4" stroke="#183a78" stroke-width="0.5"/><rect x="224.45" y="238.34" width="3.54" height="6.83" fill="#e8291e" stroke="#9c1f18" stroke-width="0.5"/><rect x="228.09" y="238.34" width="3.54" height="1.9" fill="#e8291e" stroke="#9c1f18" stroke-width="0.5"/><rect x="231.73" y="238.34" width="3.54" height="7.59" fill="#e8291e" stroke="#9c1f18" stroke-width="0.5"/><rect x="235.37" y="236.06" width="3.54" height="2.28" fill="#2b60b4" stroke="#183a78" stroke-width="0.5"/><rect x="239.01" y="229.99" width="3.54" height="8.35" fill="#2b60b4" stroke="#183a78" stroke-width="0.5"/><rect x="242.65" y="228.2" width="3.54" height="10.14" fill="#2b60b4" stroke="#183a78" stroke-width="0.5"/><rect x="246.29" y="238.34" width="3.54" height="15.18" fill="#e8291e" stroke="#9c1f18" stroke-width="0.5"/><rect x="249.93" y="215.56" width="3.54" height="22.78" fill="#2b60b4" stroke="#183a78" stroke-width="0.5"/><rect x="253.57" y="229.99" width="3.54" height="8.35" fill="#2b60b4" stroke="#183a78" stroke-width="0.5"/><rect x="257.21" y="234.05" width="3.54" height="4.29" fill="#2b60b4" stroke="#183a78" stroke-width="0.5"/></g><path d="M31.5 181.4V276.3" stroke="#a2a2a2" stroke-width="1.1" fill="none"/><path d="M31.5 238.34H260.8" stroke="#5a5a5a" stroke-width="0.6" fill="none"/><path d="M29.9 276.3H31.5M29.9 257.32H31.5M29.9 238.34H31.5M29.9 219.36H31.5M29.9 200.38H31.5M29.9 181.4H31.5" stroke="#a2a2a2" stroke-width="0.7" fill="none"/><g font-size="4.1" fill="#3c3c3c" stroke="#3c3c3c" stroke-width="0.1" filter="url(#sb)"><text transform="translate(27.5 278.05) scale(1 1.18)" text-anchor="end">-1000</text><text transform="translate(27.5 259.07) scale(1 1.18)" text-anchor="end">-500</text><text transform="translate(27.5 240.09) scale(1 1.18)" text-anchor="end">0</text><text transform="translate(27.5 221.11) scale(1 1.18)" text-anchor="end">500</text><text transform="translate(27.5 202.13) scale(1 1.18)" text-anchor="end">1000</text><text transform="translate(27.5 183.15) scale(1 1.18)" text-anchor="end">1500</text></g><path d="M31.5 238.34v1.2M35.14 238.34v1.2M38.78 238.34v1.2M42.42 238.34v1.2M46.06 238.34v1.2M49.7 238.34v1.2M53.34 238.34v1.2M56.98 238.34v1.2M60.62 238.34v1.2M64.26 238.34v1.2M67.9 238.34v1.2M71.54 238.34v1.2M75.18 238.34v1.2M78.82 238.34v1.2M82.46 238.34v1.2M86.1 238.34v1.2M89.73 238.34v1.2M93.37 238.34v1.2M97.01 238.34v1.2M100.65 238.34v1.2M104.29 238.34v1.2M107.93 238.34v1.2M111.57 238.34v1.2M115.21 238.34v1.2M118.85 238.34v1.2M122.49 238.34v1.2M126.13 238.34v1.2M129.77 238.34v1.2M133.41 238.34v1.2M137.05 238.34v1.2M140.69 238.34v1.2M144.33 238.34v1.2M147.97 238.34v1.2M151.61 238.34v1.2M155.25 238.34v1.2M158.89 238.34v1.2M162.53 238.34v1.2M166.17 238.34v1.2M169.81 238.34v1.2M173.45 238.34v1.2M177.09 238.34v1.2M180.73 238.34v1.2M184.37 238.34v1.2M188.01 238.34v1.2M191.65 238.34v1.2M195.29 238.34v1.2M198.93 238.34v1.2M202.57 238.34v1.2M206.2 238.34v1.2M209.84 238.34v1.2M213.48 238.34v1.2M217.12 238.34v1.2M220.76 238.34v1.2M224.4 238.34v1.2M228.04 238.34v1.2M231.68 238.34v1.2M235.32 238.34v1.2M238.96 238.34v1.2M242.6 238.34v1.2M246.24 238.34v1.2M249.88 238.34v1.2M253.52 238.34v1.2M257.16 238.34v1.2M260.8 238.34v1.2" stroke="#5a5a5a" stroke-width="0.4" fill="none"/><g font-size="4.15" fill="#3c3c3c" stroke="#3c3c3c" stroke-width="0.1" filter="url(#sb)"><text transform="translate(35.77 279.6) rotate(-90) scale(1 1.18)" text-anchor="end">1951</text><text transform="translate(43.05 279.6) rotate(-90) scale(1 1.18)" text-anchor="end">1953</text><text transform="translate(50.33 279.6) rotate(-90) scale(1 1.18)" text-anchor="end">1955</text><text transform="translate(57.61 279.6) rotate(-90) scale(1 1.18)" text-anchor="end">1957</text><text transform="translate(64.89 279.6) rotate(-90) scale(1 1.18)" text-anchor="end">1959</text><text transform="translate(72.17 279.6) rotate(-90) scale(1 1.18)" text-anchor="end">1961</text><text transform="translate(79.45 279.6) rotate(-90) scale(1 1.18)" text-anchor="end">1963</text><text transform="translate(86.73 279.6) rotate(-90) scale(1 1.18)" text-anchor="end">1965</text><text transform="translate(94 279.6) rotate(-90) scale(1 1.18)" text-anchor="end">1967</text><text transform="translate(101.28 279.6) rotate(-90) scale(1 1.18)" text-anchor="end">1969</text><text transform="translate(108.56 279.6) rotate(-90) scale(1 1.18)" text-anchor="end">1971</text><text transform="translate(115.84 279.6) rotate(-90) scale(1 1.18)" text-anchor="end">1973</text><text transform="translate(123.12 279.6) rotate(-90) scale(1 1.18)" text-anchor="end">1975</text><text transform="translate(130.4 279.6) rotate(-90) scale(1 1.18)" text-anchor="end">1977</text><text transform="translate(137.68 279.6) rotate(-90) scale(1 1.18)" text-anchor="end">1979</text><text transform="translate(144.96 279.6) rotate(-90) scale(1 1.18)" text-anchor="end">1981</text><text transform="translate(152.24 279.6) rotate(-90) scale(1 1.18)" text-anchor="end">1983</text><text transform="translate(159.52 279.6) rotate(-90) scale(1 1.18)" text-anchor="end">1985</text><text transform="translate(166.8 279.6) rotate(-90) scale(1 1.18)" text-anchor="end">1987</text><text transform="translate(174.08 279.6) rotate(-90) scale(1 1.18)" text-anchor="end">1989</text><text transform="translate(181.36 279.6) rotate(-90) scale(1 1.18)" text-anchor="end">1991</text><text transform="translate(188.64 279.6) rotate(-90) scale(1 1.18)" text-anchor="end">1993</text><text transform="translate(195.92 279.6) rotate(-90) scale(1 1.18)" text-anchor="end">1995</text><text transform="translate(203.2 279.6) rotate(-90) scale(1 1.18)" text-anchor="end">1997</text><text transform="translate(210.47 279.6) rotate(-90) scale(1 1.18)" text-anchor="end">1999</text><text transform="translate(217.75 279.6) rotate(-90) scale(1 1.18)" text-anchor="end">2001</text><text transform="translate(225.03 279.6) rotate(-90) scale(1 1.18)" text-anchor="end">2003</text><text transform="translate(232.31 279.6) rotate(-90) scale(1 1.18)" text-anchor="end">2005</text><text transform="translate(239.59 279.6) rotate(-90) scale(1 1.18)" text-anchor="end">2007</text><text transform="translate(246.87 279.6) rotate(-90) scale(1 1.18)" text-anchor="end">2009</text><text transform="translate(254.15 279.6) rotate(-90) scale(1 1.18)" text-anchor="end">2011</text><text transform="translate(261.43 279.6) rotate(-90) scale(1 1.18)" text-anchor="end">2013</text></g><path d="M51.52 232.86C52.12 232.92 53.94 232.93 55.16 233.23C56.37 233.54 57.58 234.05 58.8 234.68C60.01 235.32 61.22 236.71 62.44 237.05C63.65 237.4 64.86 237.42 66.08 236.75C67.29 236.08 68.5 233.96 69.72 233.03C70.93 232.09 72.14 231.34 73.36 231.14C74.57 230.93 75.78 231.82 77 231.8C78.21 231.79 79.42 230.93 80.64 231.04C81.85 231.16 83.06 232.32 84.28 232.52C85.49 232.71 86.7 231.71 87.92 232.22C89.13 232.73 90.34 235.36 91.55 235.56C92.77 235.76 93.98 234.14 95.19 233.42C96.41 232.7 97.62 232.42 98.83 231.23C100.05 230.04 101.26 226.75 102.47 226.26C103.69 225.78 104.9 227.3 106.11 228.31C107.33 229.32 108.54 230.97 109.75 232.34C110.97 233.7 112.18 235.82 113.39 236.5C114.61 237.19 115.82 236.5 117.03 236.46C118.25 236.42 119.46 236.13 120.67 236.25C121.89 236.37 123.1 236.6 124.31 237.17C125.53 237.75 126.74 239.48 127.95 239.7C129.16 239.93 130.38 238.55 131.59 238.53C132.8 238.51 134.02 239.43 135.23 239.57C136.44 239.7 137.66 238.61 138.87 239.35C140.08 240.09 141.3 243.19 142.51 244.02C143.72 244.84 144.94 244.75 146.15 244.29C147.36 243.84 148.58 241.7 149.79 241.3C151 240.9 152.22 241.54 153.43 241.87C154.64 242.21 155.86 243.24 157.07 243.32C158.28 243.41 159.5 242.53 160.71 242.38C161.92 242.24 163.14 242.96 164.35 242.45C165.56 241.94 166.77 240.31 167.99 239.34C169.2 238.38 170.41 237.09 171.63 236.65C172.84 236.21 174.05 236.54 175.27 236.7C176.48 236.86 177.69 237.24 178.91 237.6C180.12 237.97 181.33 238.56 182.55 238.87C183.76 239.19 184.97 239.42 186.19 239.49C187.4 239.57 188.61 239.73 189.83 239.31C191.04 238.89 192.25 237.74 193.47 236.96C194.68 236.19 195.89 234.63 197.11 234.66C198.32 234.69 199.53 237 200.75 237.12C201.96 237.24 203.17 235.33 204.38 235.37C205.6 235.41 206.81 236.67 208.02 237.37C209.24 238.08 210.45 239 211.66 239.62C212.88 240.23 214.09 240.99 215.3 241.07C216.52 241.14 217.73 240.62 218.94 240.06C220.16 239.49 221.37 238.43 222.58 237.68C223.8 236.94 225.01 235.4 226.22 235.57C227.44 235.73 228.65 238.41 229.86 238.67C231.08 238.93 232.29 237.32 233.5 237.11C234.72 236.89 235.93 237.68 237.14 237.38C238.36 237.09 240.18 235.68 240.78 235.34" fill="none" stroke="#050505" stroke-width="1.1" stroke-linejoin="round" stroke-linecap="round"/><text x="137.9" y="166.6" font-size="5.58" font-weight="bold" text-anchor="middle" fill="#111" stroke="#111" stroke-width="0.14">Annual Rainfall Anomaly for East Peninsula (base 1971-2000)</text><text transform="translate(13.7 229.85) rotate(-90)" font-size="4.65" font-weight="bold" text-anchor="middle" fill="#111" stroke="#111" stroke-width="0.15">Rainfall Anomaly (mm)</text><text x="146.15" y="295.6" font-size="4.35" font-weight="bold" text-anchor="middle" fill="#111" stroke="#111" stroke-width="0.15">Year</text></g>
<g><rect x="280.7" y="155.7" width="269.8" height="149.7" fill="#fff" stroke="#6a6a6a" stroke-width="0.9"/><rect x="309.8" y="181.4" width="229.8" height="94.4" fill="#fff" stroke="#b0b0b0" stroke-width="0.8"/><g><rect x="309.85" y="223.57" width="3.55" height="20.77" fill="#2b60b4" stroke="#183a78" stroke-width="0.5"/><rect x="313.5" y="207.1" width="3.55" height="37.24" fill="#2b60b4" stroke="#183a78" stroke-width="0.5"/><rect x="317.15" y="220.52" width="3.55" height="23.81" fill="#2b60b4" stroke="#183a78" stroke-width="0.5"/><rect x="320.79" y="199.23" width="3.55" height="45.1" fill="#2b60b4" stroke="#183a78" stroke-width="0.5"/><rect x="324.44" y="232.43" width="3.55" height="11.9" fill="#2b60b4" stroke="#183a78" stroke-width="0.5"/><rect x="328.09" y="205.84" width="3.55" height="38.49" fill="#2b60b4" stroke="#183a78" stroke-width="0.5"/><rect x="331.74" y="225.09" width="3.55" height="19.25" fill="#2b60b4" stroke="#183a78" stroke-width="0.5"/><rect x="339.03" y="213.44" width="3.55" height="30.89" fill="#2b60b4" stroke="#183a78" stroke-width="0.5"/><rect x="342.68" y="191.89" width="3.55" height="52.44" fill="#2b60b4" stroke="#183a78" stroke-width="0.5"/><rect x="346.33" y="200.28" width="3.55" height="44.05" fill="#2b60b4" stroke="#183a78" stroke-width="0.5"/><rect x="349.97" y="207.88" width="3.55" height="36.45" fill="#2b60b4" stroke="#183a78" stroke-width="0.5"/><rect x="353.62" y="244.33" width="3.55" height="4.82" fill="#e8291e" stroke="#9c1f18" stroke-width="0.5"/><rect x="357.27" y="199.23" width="3.55" height="45.1" fill="#2b60b4" stroke="#183a78" stroke-width="0.5"/><rect x="360.92" y="244.33" width="3.55" height="3.57" fill="#e8291e" stroke="#9c1f18" stroke-width="0.5"/><rect x="364.56" y="204.06" width="3.55" height="40.28" fill="#2b60b4" stroke="#183a78" stroke-width="0.5"/><rect x="368.21" y="199.76" width="3.55" height="44.58" fill="#2b60b4" stroke="#183a78" stroke-width="0.5"/><rect x="371.86" y="241.55" width="3.55" height="2.78" fill="#2b60b4" stroke="#183a78" stroke-width="0.5"/><rect x="375.51" y="231.17" width="3.55" height="13.16" fill="#2b60b4" stroke="#183a78" stroke-width="0.5"/><rect x="379.15" y="232.43" width="3.55" height="11.9" fill="#2b60b4" stroke="#183a78" stroke-width="0.5"/><rect x="382.8" y="244.33" width="3.55" height="5.3" fill="#e8291e" stroke="#9c1f18" stroke-width="0.5"/><rect x="386.45" y="244.33" width="3.55" height="7.87" fill="#e8291e" stroke="#9c1f18" stroke-width="0.5"/><rect x="390.1" y="218.48" width="3.55" height="25.86" fill="#2b60b4" stroke="#183a78" stroke-width="0.5"/><rect x="393.75" y="244.33" width="3.55" height="24.33" fill="#e8291e" stroke="#9c1f18" stroke-width="0.5"/><rect x="397.39" y="243.28" width="3.55" height="1.05" fill="#2b60b4" stroke="#183a78" stroke-width="0.5"/><rect x="401.04" y="244.33" width="3.55" height="5.24" fill="#e8291e" stroke="#9c1f18" stroke-width="0.5"/><rect x="404.69" y="244.33" width="3.55" height="7.34" fill="#e8291e" stroke="#9c1f18" stroke-width="0.5"/><rect x="408.34" y="242.08" width="3.55" height="2.26" fill="#2b60b4" stroke="#183a78" stroke-width="0.5"/><rect x="411.98" y="244.33" width="3.55" height="9.6" fill="#e8291e" stroke="#9c1f18" stroke-width="0.5"/><rect x="415.63" y="240.3" width="3.55" height="4.04" fill="#2b60b4" stroke="#183a78" stroke-width="0.5"/><rect x="419.28" y="244.33" width="3.55" height="15.21" fill="#e8291e" stroke="#9c1f18" stroke-width="0.5"/><rect x="422.93" y="237.52" width="3.55" height="6.82" fill="#2b60b4" stroke="#183a78" stroke-width="0.5"/><rect x="426.57" y="244.33" width="3.55" height="11.12" fill="#e8291e" stroke="#9c1f18" stroke-width="0.5"/><rect x="430.22" y="215.96" width="3.55" height="28.37" fill="#2b60b4" stroke="#183a78" stroke-width="0.5"/><rect x="433.87" y="239.51" width="3.55" height="4.82" fill="#2b60b4" stroke="#183a78" stroke-width="0.5"/><rect x="441.16" y="223.57" width="3.55" height="20.77" fill="#2b60b4" stroke="#183a78" stroke-width="0.5"/><rect x="444.81" y="237.52" width="3.55" height="6.82" fill="#2b60b4" stroke="#183a78" stroke-width="0.5"/><rect x="448.46" y="244.33" width="3.55" height="4.56" fill="#e8291e" stroke="#9c1f18" stroke-width="0.5"/><rect x="452.11" y="244.33" width="3.55" height="11.12" fill="#e8291e" stroke="#9c1f18" stroke-width="0.5"/><rect x="455.75" y="226.08" width="3.55" height="18.25" fill="#2b60b4" stroke="#183a78" stroke-width="0.5"/><rect x="459.4" y="244.33" width="3.55" height="6.08" fill="#e8291e" stroke="#9c1f18" stroke-width="0.5"/><rect x="463.05" y="236.47" width="3.55" height="7.87" fill="#2b60b4" stroke="#183a78" stroke-width="0.5"/><rect x="470.35" y="209.88" width="3.55" height="34.46" fill="#2b60b4" stroke="#183a78" stroke-width="0.5"/><rect x="473.99" y="242.55" width="3.55" height="1.78" fill="#2b60b4" stroke="#183a78" stroke-width="0.5"/><rect x="477.64" y="244.33" width="3.55" height="23.08" fill="#e8291e" stroke="#9c1f18" stroke-width="0.5"/><rect x="481.29" y="244.33" width="3.55" height="16.73" fill="#e8291e" stroke="#9c1f18" stroke-width="0.5"/><rect x="484.94" y="244.33" width="3.55" height="9.86" fill="#e8291e" stroke="#9c1f18" stroke-width="0.5"/><rect x="488.58" y="244.33" width="3.55" height="2.78" fill="#e8291e" stroke="#9c1f18" stroke-width="0.5"/><rect x="492.23" y="244.33" width="3.55" height="2.62" fill="#fff" stroke="#8a8a8a" stroke-width="0.5"/><rect x="495.88" y="244.33" width="3.55" height="14.95" fill="#e8291e" stroke="#9c1f18" stroke-width="0.5"/><rect x="499.53" y="243.28" width="3.55" height="1.05" fill="#2b60b4" stroke="#183a78" stroke-width="0.5"/><rect x="503.17" y="244.33" width="3.55" height="2.26" fill="#e8291e" stroke="#9c1f18" stroke-width="0.5"/><rect x="506.82" y="244.33" width="3.55" height="4.82" fill="#e8291e" stroke="#9c1f18" stroke-width="0.5"/><rect x="510.47" y="217.48" width="3.55" height="26.85" fill="#2b60b4" stroke="#183a78" stroke-width="0.5"/><rect x="514.12" y="211.4" width="3.55" height="32.94" fill="#2b60b4" stroke="#183a78" stroke-width="0.5"/><rect x="517.76" y="228.86" width="3.55" height="15.47" fill="#2b60b4" stroke="#183a78" stroke-width="0.5"/><rect x="521.41" y="244.33" width="3.55" height="14.16" fill="#e8291e" stroke="#9c1f18" stroke-width="0.5"/><rect x="525.06" y="244.33" width="3.55" height="9.13" fill="#e8291e" stroke="#9c1f18" stroke-width="0.5"/><rect x="528.71" y="213.97" width="3.55" height="30.37" fill="#2b60b4" stroke="#183a78" stroke-width="0.5"/><rect x="532.35" y="229.39" width="3.55" height="14.95" fill="#2b60b4" stroke="#183a78" stroke-width="0.5"/><rect x="536" y="223.57" width="3.55" height="20.77" fill="#2b60b4" stroke="#183a78" stroke-width="0.5"/></g><path d="M309.8 181.4V275.8" stroke="#a2a2a2" stroke-width="1.1" fill="none"/><path d="M309.8 244.33H539.6" stroke="#5a5a5a" stroke-width="0.6" fill="none"/><path d="M308.2 275.8H309.8M308.2 265.31H309.8M308.2 254.82H309.8M308.2 244.33H309.8M308.2 233.84H309.8M308.2 223.36H309.8M308.2 212.87H309.8M308.2 202.38H309.8M308.2 191.89H309.8M308.2 181.4H309.8" stroke="#a2a2a2" stroke-width="0.7" fill="none"/><g font-size="4.1" fill="#3c3c3c" stroke="#3c3c3c" stroke-width="0.1" filter="url(#sb)"><text transform="translate(305.8 277.55) scale(1 1.18)" text-anchor="end">-600</text><text transform="translate(305.8 267.06) scale(1 1.18)" text-anchor="end">-400</text><text transform="translate(305.8 256.57) scale(1 1.18)" text-anchor="end">-200</text><text transform="translate(305.8 246.08) scale(1 1.18)" text-anchor="end">0</text><text transform="translate(305.8 235.59) scale(1 1.18)" text-anchor="end">200</text><text transform="translate(305.8 225.11) scale(1 1.18)" text-anchor="end">400</text><text transform="translate(305.8 214.62) scale(1 1.18)" text-anchor="end">600</text><text transform="translate(305.8 204.13) scale(1 1.18)" text-anchor="end">800</text><text transform="translate(305.8 193.64) scale(1 1.18)" text-anchor="end">1000</text><text transform="translate(305.8 183.15) scale(1 1.18)" text-anchor="end">1200</text></g><path d="M309.8 244.33v1.2M313.45 244.33v1.2M317.1 244.33v1.2M320.74 244.33v1.2M324.39 244.33v1.2M328.04 244.33v1.2M331.69 244.33v1.2M335.33 244.33v1.2M338.98 244.33v1.2M342.63 244.33v1.2M346.28 244.33v1.2M349.92 244.33v1.2M353.57 244.33v1.2M357.22 244.33v1.2M360.87 244.33v1.2M364.51 244.33v1.2M368.16 244.33v1.2M371.81 244.33v1.2M375.46 244.33v1.2M379.1 244.33v1.2M382.75 244.33v1.2M386.4 244.33v1.2M390.05 244.33v1.2M393.7 244.33v1.2M397.34 244.33v1.2M400.99 244.33v1.2M404.64 244.33v1.2M408.29 244.33v1.2M411.93 244.33v1.2M415.58 244.33v1.2M419.23 244.33v1.2M422.88 244.33v1.2M426.52 244.33v1.2M430.17 244.33v1.2M433.82 244.33v1.2M437.47 244.33v1.2M441.11 244.33v1.2M444.76 244.33v1.2M448.41 244.33v1.2M452.06 244.33v1.2M455.7 244.33v1.2M459.35 244.33v1.2M463 244.33v1.2M466.65 244.33v1.2M470.3 244.33v1.2M473.94 244.33v1.2M477.59 244.33v1.2M481.24 244.33v1.2M484.89 244.33v1.2M488.53 244.33v1.2M492.18 244.33v1.2M495.83 244.33v1.2M499.48 244.33v1.2M503.12 244.33v1.2M506.77 244.33v1.2M510.42 244.33v1.2M514.07 244.33v1.2M517.71 244.33v1.2M521.36 244.33v1.2M525.01 244.33v1.2M528.66 244.33v1.2M532.3 244.33v1.2M535.95 244.33v1.2M539.6 244.33v1.2" stroke="#5a5a5a" stroke-width="0.4" fill="none"/><g font-size="4.15" fill="#3c3c3c" stroke="#3c3c3c" stroke-width="0.1" filter="url(#sb)"><text transform="translate(314.07 279.1) rotate(-90) scale(1 1.18)" text-anchor="end">1951</text><text transform="translate(321.37 279.1) rotate(-90) scale(1 1.18)" text-anchor="end">1953</text><text transform="translate(328.66 279.1) rotate(-90) scale(1 1.18)" text-anchor="end">1955</text><text transform="translate(335.96 279.1) rotate(-90) scale(1 1.18)" text-anchor="end">1957</text><text transform="translate(343.25 279.1) rotate(-90) scale(1 1.18)" text-anchor="end">1959</text><text transform="translate(350.55 279.1) rotate(-90) scale(1 1.18)" text-anchor="end">1961</text><text transform="translate(357.85 279.1) rotate(-90) scale(1 1.18)" text-anchor="end">1963</text><text transform="translate(365.14 279.1) rotate(-90) scale(1 1.18)" text-anchor="end">1965</text><text transform="translate(372.44 279.1) rotate(-90) scale(1 1.18)" text-anchor="end">1967</text><text transform="translate(379.73 279.1) rotate(-90) scale(1 1.18)" text-anchor="end">1969</text><text transform="translate(387.03 279.1) rotate(-90) scale(1 1.18)" text-anchor="end">1971</text><text transform="translate(394.32 279.1) rotate(-90) scale(1 1.18)" text-anchor="end">1973</text><text transform="translate(401.62 279.1) rotate(-90) scale(1 1.18)" text-anchor="end">1975</text><text transform="translate(408.91 279.1) rotate(-90) scale(1 1.18)" text-anchor="end">1977</text><text transform="translate(416.21 279.1) rotate(-90) scale(1 1.18)" text-anchor="end">1979</text><text transform="translate(423.5 279.1) rotate(-90) scale(1 1.18)" text-anchor="end">1981</text><text transform="translate(430.8 279.1) rotate(-90) scale(1 1.18)" text-anchor="end">1983</text><text transform="translate(438.09 279.1) rotate(-90) scale(1 1.18)" text-anchor="end">1985</text><text transform="translate(445.39 279.1) rotate(-90) scale(1 1.18)" text-anchor="end">1987</text><text transform="translate(452.68 279.1) rotate(-90) scale(1 1.18)" text-anchor="end">1989</text><text transform="translate(459.98 279.1) rotate(-90) scale(1 1.18)" text-anchor="end">1991</text><text transform="translate(467.27 279.1) rotate(-90) scale(1 1.18)" text-anchor="end">1993</text><text transform="translate(474.57 279.1) rotate(-90) scale(1 1.18)" text-anchor="end">1995</text><text transform="translate(481.86 279.1) rotate(-90) scale(1 1.18)" text-anchor="end">1997</text><text transform="translate(489.16 279.1) rotate(-90) scale(1 1.18)" text-anchor="end">1999</text><text transform="translate(496.45 279.1) rotate(-90) scale(1 1.18)" text-anchor="end">2001</text><text transform="translate(503.75 279.1) rotate(-90) scale(1 1.18)" text-anchor="end">2003</text><text transform="translate(511.05 279.1) rotate(-90) scale(1 1.18)" text-anchor="end">2005</text><text transform="translate(518.34 279.1) rotate(-90) scale(1 1.18)" text-anchor="end">2007</text><text transform="translate(525.64 279.1) rotate(-90) scale(1 1.18)" text-anchor="end">2009</text><text transform="translate(532.93 279.1) rotate(-90) scale(1 1.18)" text-anchor="end">2011</text><text transform="translate(540.23 279.1) rotate(-90) scale(1 1.18)" text-anchor="end">2013</text></g><path d="M329.86 214.88C330.47 214.65 332.29 213.06 333.51 213.46C334.73 213.86 335.94 216.97 337.16 217.28C338.37 217.6 339.59 214.93 340.8 215.35C342.02 215.76 343.24 219.46 344.45 219.77C345.67 220.08 346.88 217.71 348.1 217.19C349.32 216.67 350.53 216.48 351.75 216.64C352.96 216.8 354.18 218.08 355.4 218.13C356.61 218.19 357.83 216.85 359.04 216.94C360.26 217.03 361.47 217.5 362.69 218.66C363.91 219.83 365.12 222.25 366.34 223.91C367.55 225.57 368.77 227.69 369.99 228.63C371.2 229.58 372.42 229.14 373.63 229.6C374.85 230.05 376.07 230.41 377.28 231.37C378.5 232.33 379.71 234.68 380.93 235.37C382.14 236.07 383.36 234.78 384.58 235.53C385.79 236.27 387.01 238.49 388.22 239.86C389.44 241.22 390.66 242.88 391.87 243.7C393.09 244.53 394.3 244.5 395.52 244.83C396.73 245.15 397.95 245.11 399.17 245.66C400.38 246.21 401.6 247.9 402.81 248.12C404.03 248.35 405.25 247.16 406.46 247.02C407.68 246.89 408.89 247.31 410.11 247.32C411.33 247.33 412.54 247.57 413.76 247.09C414.97 246.61 416.19 244.86 417.4 244.44C418.62 244.01 419.84 244.91 421.05 244.53C422.27 244.16 423.48 242.78 424.7 242.17C425.92 241.56 427.13 240.99 428.35 240.88C429.56 240.77 430.78 241.37 432 241.5C433.21 241.63 434.43 241.83 435.64 241.64C436.86 241.45 438.07 240.7 439.29 240.35C440.51 239.99 441.72 239.67 442.94 239.52C444.15 239.36 445.37 239.61 446.59 239.42C447.8 239.24 449.02 238.67 450.23 238.41C451.45 238.15 452.67 237.9 453.88 237.86C455.1 237.81 456.31 237.74 457.53 238.14C458.74 238.53 459.96 239.32 461.18 240.23C462.39 241.15 463.61 242.82 464.82 243.64C466.04 244.46 467.26 244.93 468.47 245.16C469.69 245.38 470.9 245.15 472.12 245C473.33 244.84 474.55 243.85 475.77 244.22C476.98 244.6 478.2 246.85 479.41 247.24C480.63 247.64 481.85 246.55 483.06 246.59C484.28 246.64 485.49 247.29 486.71 247.51C487.93 247.74 489.14 247.76 490.36 247.95C491.57 248.14 492.79 249 494 248.64C495.22 248.29 496.44 246.87 497.65 245.81C498.87 244.76 500.08 242.93 501.3 242.31C502.52 241.68 503.73 242.12 504.95 242.07C506.16 242.02 507.38 242.52 508.6 242.01C509.81 241.49 511.03 239.76 512.24 238.99C513.46 238.23 514.67 238.2 515.89 237.4C517.11 236.59 518.93 234.69 519.54 234.15" fill="none" stroke="#050505" stroke-width="1.1" stroke-linejoin="round" stroke-linecap="round"/><text x="416.6" y="166.3" font-size="5.58" font-weight="bold" text-anchor="middle" fill="#111" stroke="#111" stroke-width="0.14">Annual Rainfall Anomaly for South Peninsula (base 1971-2000)</text><text transform="translate(293.1 229.6) rotate(-90)" font-size="4.65" font-weight="bold" text-anchor="middle" fill="#111" stroke="#111" stroke-width="0.15">Rainfall Anomaly (mm)</text><text x="424.7" y="295.1" font-size="4.35" font-weight="bold" text-anchor="middle" fill="#111" stroke="#111" stroke-width="0.15">Year</text></g>
<g><rect x="1.3" y="310.9" width="270.1" height="149" fill="#fff" stroke="#6a6a6a" stroke-width="0.9"/><rect x="30.5" y="335.9" width="230.2" height="94.7" fill="#fff" stroke="#b0b0b0" stroke-width="0.8"/><g><rect x="30.55" y="391.77" width="3.55" height="0.95" fill="#2b60b4" stroke="#183a78" stroke-width="0.5"/><rect x="34.2" y="363.84" width="3.55" height="28.88" fill="#2b60b4" stroke="#183a78" stroke-width="0.5"/><rect x="37.86" y="383.25" width="3.55" height="9.47" fill="#fff" stroke="#8a8a8a" stroke-width="0.5"/><rect x="41.51" y="362.61" width="3.55" height="30.11" fill="#2b60b4" stroke="#183a78" stroke-width="0.5"/><rect x="45.17" y="370.7" width="3.55" height="22.02" fill="#2b60b4" stroke="#183a78" stroke-width="0.5"/><rect x="48.82" y="361.56" width="3.55" height="31.16" fill="#2b60b4" stroke="#183a78" stroke-width="0.5"/><rect x="52.47" y="392.72" width="3.55" height="7.86" fill="#e8291e" stroke="#9c1f18" stroke-width="0.5"/><rect x="56.13" y="392.72" width="3.55" height="3.31" fill="#e8291e" stroke="#9c1f18" stroke-width="0.5"/><rect x="59.78" y="384.62" width="3.55" height="8.1" fill="#2b60b4" stroke="#183a78" stroke-width="0.5"/><rect x="63.44" y="386.66" width="3.55" height="6.06" fill="#2b60b4" stroke="#183a78" stroke-width="0.5"/><rect x="67.09" y="392.72" width="3.55" height="5.3" fill="#e8291e" stroke="#9c1f18" stroke-width="0.5"/><rect x="70.74" y="381.36" width="3.55" height="11.36" fill="#2b60b4" stroke="#183a78" stroke-width="0.5"/><rect x="74.4" y="380.08" width="3.55" height="12.64" fill="#2b60b4" stroke="#183a78" stroke-width="0.5"/><rect x="78.05" y="392.72" width="3.55" height="9.14" fill="#e8291e" stroke="#9c1f18" stroke-width="0.5"/><rect x="81.71" y="380.84" width="3.55" height="11.88" fill="#2b60b4" stroke="#183a78" stroke-width="0.5"/><rect x="85.36" y="386.66" width="3.55" height="6.06" fill="#2b60b4" stroke="#183a78" stroke-width="0.5"/><rect x="89.01" y="392.72" width="3.55" height="3.55" fill="#e8291e" stroke="#9c1f18" stroke-width="0.5"/><rect x="92.67" y="374.73" width="3.55" height="17.99" fill="#2b60b4" stroke="#183a78" stroke-width="0.5"/><rect x="96.32" y="385.9" width="3.55" height="6.82" fill="#2b60b4" stroke="#183a78" stroke-width="0.5"/><rect x="99.98" y="379.32" width="3.55" height="13.4" fill="#2b60b4" stroke="#183a78" stroke-width="0.5"/><rect x="103.63" y="388.46" width="3.55" height="4.26" fill="#2b60b4" stroke="#183a78" stroke-width="0.5"/><rect x="107.28" y="392.72" width="3.55" height="7.58" fill="#e8291e" stroke="#9c1f18" stroke-width="0.5"/><rect x="110.94" y="383.87" width="3.55" height="8.85" fill="#2b60b4" stroke="#183a78" stroke-width="0.5"/><rect x="114.59" y="384.62" width="3.55" height="8.1" fill="#2b60b4" stroke="#183a78" stroke-width="0.5"/><rect x="118.25" y="392.72" width="3.55" height="2.04" fill="#e8291e" stroke="#9c1f18" stroke-width="0.5"/><rect x="121.9" y="384.62" width="3.55" height="8.1" fill="#2b60b4" stroke="#183a78" stroke-width="0.5"/><rect x="125.55" y="384.62" width="3.55" height="8.1" fill="#2b60b4" stroke="#183a78" stroke-width="0.5"/><rect x="129.21" y="392.72" width="3.55" height="15.2" fill="#e8291e" stroke="#9c1f18" stroke-width="0.5"/><rect x="132.86" y="375.25" width="3.55" height="17.47" fill="#2b60b4" stroke="#183a78" stroke-width="0.5"/><rect x="136.52" y="362.08" width="3.55" height="30.64" fill="#2b60b4" stroke="#183a78" stroke-width="0.5"/><rect x="140.17" y="384.1" width="3.55" height="8.62" fill="#2b60b4" stroke="#183a78" stroke-width="0.5"/><rect x="143.82" y="392.72" width="3.55" height="26.04" fill="#e8291e" stroke="#9c1f18" stroke-width="0.5"/><rect x="147.48" y="392.72" width="3.55" height="4.55" fill="#e8291e" stroke="#9c1f18" stroke-width="0.5"/><rect x="151.13" y="354.22" width="3.55" height="38.5" fill="#2b60b4" stroke="#183a78" stroke-width="0.5"/><rect x="154.78" y="392.72" width="3.55" height="11.65" fill="#e8291e" stroke="#9c1f18" stroke-width="0.5"/><rect x="158.44" y="392.72" width="3.55" height="14.68" fill="#e8291e" stroke="#9c1f18" stroke-width="0.5"/><rect x="162.09" y="392.72" width="3.55" height="17.24" fill="#e8291e" stroke="#9c1f18" stroke-width="0.5"/><rect x="165.75" y="367.39" width="3.55" height="25.33" fill="#2b60b4" stroke="#183a78" stroke-width="0.5"/><rect x="169.4" y="392.72" width="3.55" height="10.89" fill="#e8291e" stroke="#9c1f18" stroke-width="0.5"/><rect x="173.05" y="392.72" width="3.55" height="27.37" fill="#e8291e" stroke="#9c1f18" stroke-width="0.5"/><rect x="176.71" y="392.72" width="3.55" height="17.24" fill="#e8291e" stroke="#9c1f18" stroke-width="0.5"/><rect x="180.36" y="392.72" width="3.55" height="27.37" fill="#e8291e" stroke="#9c1f18" stroke-width="0.5"/><rect x="184.02" y="392.72" width="3.55" height="8.33" fill="#e8291e" stroke="#9c1f18" stroke-width="0.5"/><rect x="187.67" y="389.69" width="3.55" height="3.03" fill="#2b60b4" stroke="#183a78" stroke-width="0.5"/><rect x="191.32" y="385.9" width="3.55" height="6.82" fill="#2b60b4" stroke="#183a78" stroke-width="0.5"/><rect x="194.98" y="374.49" width="3.55" height="18.23" fill="#2b60b4" stroke="#183a78" stroke-width="0.5"/><rect x="198.63" y="392.72" width="3.55" height="23.53" fill="#e8291e" stroke="#9c1f18" stroke-width="0.5"/><rect x="202.29" y="392.72" width="3.55" height="21.02" fill="#e8291e" stroke="#9c1f18" stroke-width="0.5"/><rect x="205.94" y="358.53" width="3.55" height="34.19" fill="#2b60b4" stroke="#183a78" stroke-width="0.5"/><rect x="209.59" y="382.07" width="3.55" height="10.65" fill="#2b60b4" stroke="#183a78" stroke-width="0.5"/><rect x="213.25" y="370.7" width="3.55" height="22.02" fill="#2b60b4" stroke="#183a78" stroke-width="0.5"/><rect x="216.9" y="392.72" width="3.55" height="26.85" fill="#e8291e" stroke="#9c1f18" stroke-width="0.5"/><rect x="220.56" y="392.72" width="3.55" height="1.42" fill="#fff" stroke="#8a8a8a" stroke-width="0.5"/><rect x="224.21" y="392.72" width="3.55" height="20.5" fill="#e8291e" stroke="#9c1f18" stroke-width="0.5"/><rect x="227.86" y="381.36" width="3.55" height="11.36" fill="#2b60b4" stroke="#183a78" stroke-width="0.5"/><rect x="231.52" y="344.09" width="3.55" height="48.63" fill="#2b60b4" stroke="#183a78" stroke-width="0.5"/><rect x="235.17" y="372.22" width="3.55" height="20.5" fill="#2b60b4" stroke="#183a78" stroke-width="0.5"/><rect x="238.83" y="362.61" width="3.55" height="30.11" fill="#2b60b4" stroke="#183a78" stroke-width="0.5"/><rect x="242.48" y="377.52" width="3.55" height="15.2" fill="#2b60b4" stroke="#183a78" stroke-width="0.5"/><rect x="246.13" y="385.14" width="3.55" height="7.58" fill="#2b60b4" stroke="#183a78" stroke-width="0.5"/><rect x="249.79" y="343.62" width="3.55" height="49.1" fill="#2b60b4" stroke="#183a78" stroke-width="0.5"/><rect x="253.44" y="375.01" width="3.55" height="17.71" fill="#2b60b4" stroke="#183a78" stroke-width="0.5"/><rect x="257.1" y="388.41" width="3.55" height="4.31" fill="#2b60b4" stroke="#183a78" stroke-width="0.5"/></g><path d="M30.5 335.9V430.6" stroke="#a2a2a2" stroke-width="1.1" fill="none"/><path d="M30.5 392.72H260.7" stroke="#5a5a5a" stroke-width="0.6" fill="none"/><path d="M28.9 430.6H30.5M28.9 421.13H30.5M28.9 411.66H30.5M28.9 402.19H30.5M28.9 392.72H30.5M28.9 383.25H30.5M28.9 373.78H30.5M28.9 364.31H30.5M28.9 354.84H30.5M28.9 345.37H30.5M28.9 335.9H30.5" stroke="#a2a2a2" stroke-width="0.7" fill="none"/><g font-size="4.1" fill="#3c3c3c" stroke="#3c3c3c" stroke-width="0.1" filter="url(#sb)"><text transform="translate(26.5 432.35) scale(1 1.18)" text-anchor="end">-800</text><text transform="translate(26.5 422.88) scale(1 1.18)" text-anchor="end">-600</text><text transform="translate(26.5 413.41) scale(1 1.18)" text-anchor="end">-400</text><text transform="translate(26.5 403.94) scale(1 1.18)" text-anchor="end">-200</text><text transform="translate(26.5 394.47) scale(1 1.18)" text-anchor="end">0</text><text transform="translate(26.5 385) scale(1 1.18)" text-anchor="end">200</text><text transform="translate(26.5 375.53) scale(1 1.18)" text-anchor="end">400</text><text transform="translate(26.5 366.06) scale(1 1.18)" text-anchor="end">600</text><text transform="translate(26.5 356.59) scale(1 1.18)" text-anchor="end">800</text><text transform="translate(26.5 347.12) scale(1 1.18)" text-anchor="end">1000</text><text transform="translate(26.5 337.65) scale(1 1.18)" text-anchor="end">1200</text></g><path d="M30.5 392.72v1.2M34.15 392.72v1.2M37.81 392.72v1.2M41.46 392.72v1.2M45.12 392.72v1.2M48.77 392.72v1.2M52.42 392.72v1.2M56.08 392.72v1.2M59.73 392.72v1.2M63.39 392.72v1.2M67.04 392.72v1.2M70.69 392.72v1.2M74.35 392.72v1.2M78 392.72v1.2M81.66 392.72v1.2M85.31 392.72v1.2M88.96 392.72v1.2M92.62 392.72v1.2M96.27 392.72v1.2M99.93 392.72v1.2M103.58 392.72v1.2M107.23 392.72v1.2M110.89 392.72v1.2M114.54 392.72v1.2M118.2 392.72v1.2M121.85 392.72v1.2M125.5 392.72v1.2M129.16 392.72v1.2M132.81 392.72v1.2M136.47 392.72v1.2M140.12 392.72v1.2M143.77 392.72v1.2M147.43 392.72v1.2M151.08 392.72v1.2M154.73 392.72v1.2M158.39 392.72v1.2M162.04 392.72v1.2M165.7 392.72v1.2M169.35 392.72v1.2M173 392.72v1.2M176.66 392.72v1.2M180.31 392.72v1.2M183.97 392.72v1.2M187.62 392.72v1.2M191.27 392.72v1.2M194.93 392.72v1.2M198.58 392.72v1.2M202.24 392.72v1.2M205.89 392.72v1.2M209.54 392.72v1.2M213.2 392.72v1.2M216.85 392.72v1.2M220.51 392.72v1.2M224.16 392.72v1.2M227.81 392.72v1.2M231.47 392.72v1.2M235.12 392.72v1.2M238.78 392.72v1.2M242.43 392.72v1.2M246.08 392.72v1.2M249.74 392.72v1.2M253.39 392.72v1.2M257.05 392.72v1.2M260.7 392.72v1.2" stroke="#5a5a5a" stroke-width="0.4" fill="none"/><g font-size="4.15" fill="#3c3c3c" stroke="#3c3c3c" stroke-width="0.1" filter="url(#sb)"><text transform="translate(34.78 433.9) rotate(-90) scale(1 1.18)" text-anchor="end">1951</text><text transform="translate(42.08 433.9) rotate(-90) scale(1 1.18)" text-anchor="end">1953</text><text transform="translate(49.39 433.9) rotate(-90) scale(1 1.18)" text-anchor="end">1955</text><text transform="translate(56.7 433.9) rotate(-90) scale(1 1.18)" text-anchor="end">1957</text><text transform="translate(64.01 433.9) rotate(-90) scale(1 1.18)" text-anchor="end">1959</text><text transform="translate(71.32 433.9) rotate(-90) scale(1 1.18)" text-anchor="end">1961</text><text transform="translate(78.62 433.9) rotate(-90) scale(1 1.18)" text-anchor="end">1963</text><text transform="translate(85.93 433.9) rotate(-90) scale(1 1.18)" text-anchor="end">1965</text><text transform="translate(93.24 433.9) rotate(-90) scale(1 1.18)" text-anchor="end">1967</text><text transform="translate(100.55 433.9) rotate(-90) scale(1 1.18)" text-anchor="end">1969</text><text transform="translate(107.86 433.9) rotate(-90) scale(1 1.18)" text-anchor="end">1971</text><text transform="translate(115.16 433.9) rotate(-90) scale(1 1.18)" text-anchor="end">1973</text><text transform="translate(122.47 433.9) rotate(-90) scale(1 1.18)" text-anchor="end">1975</text><text transform="translate(129.78 433.9) rotate(-90) scale(1 1.18)" text-anchor="end">1977</text><text transform="translate(137.09 433.9) rotate(-90) scale(1 1.18)" text-anchor="end">1979</text><text transform="translate(144.4 433.9) rotate(-90) scale(1 1.18)" text-anchor="end">1981</text><text transform="translate(151.7 433.9) rotate(-90) scale(1 1.18)" text-anchor="end">1983</text><text transform="translate(159.01 433.9) rotate(-90) scale(1 1.18)" text-anchor="end">1985</text><text transform="translate(166.32 433.9) rotate(-90) scale(1 1.18)" text-anchor="end">1987</text><text transform="translate(173.63 433.9) rotate(-90) scale(1 1.18)" text-anchor="end">1989</text><text transform="translate(180.94 433.9) rotate(-90) scale(1 1.18)" text-anchor="end">1991</text><text transform="translate(188.24 433.9) rotate(-90) scale(1 1.18)" text-anchor="end">1993</text><text transform="translate(195.55 433.9) rotate(-90) scale(1 1.18)" text-anchor="end">1995</text><text transform="translate(202.86 433.9) rotate(-90) scale(1 1.18)" text-anchor="end">1997</text><text transform="translate(210.17 433.9) rotate(-90) scale(1 1.18)" text-anchor="end">1999</text><text transform="translate(217.48 433.9) rotate(-90) scale(1 1.18)" text-anchor="end">2001</text><text transform="translate(224.78 433.9) rotate(-90) scale(1 1.18)" text-anchor="end">2003</text><text transform="translate(232.09 433.9) rotate(-90) scale(1 1.18)" text-anchor="end">2005</text><text transform="translate(239.4 433.9) rotate(-90) scale(1 1.18)" text-anchor="end">2007</text><text transform="translate(246.71 433.9) rotate(-90) scale(1 1.18)" text-anchor="end">2009</text><text transform="translate(254.02 433.9) rotate(-90) scale(1 1.18)" text-anchor="end">2011</text><text transform="translate(261.32 433.9) rotate(-90) scale(1 1.18)" text-anchor="end">2013</text></g><path d="M50.6 381.79C51.21 381.63 53.03 380.75 54.25 380.84C55.47 380.93 56.69 381.79 57.9 382.32C59.12 382.84 60.34 383.45 61.56 384.01C62.78 384.57 63.99 385.15 65.21 385.66C66.43 386.18 67.65 386.35 68.87 387.12C70.08 387.88 71.3 390.14 72.52 390.27C73.74 390.4 74.96 388.47 76.17 387.92C77.39 387.38 78.61 387.23 79.83 387C81.05 386.77 82.26 386.57 83.48 386.52C84.7 386.46 85.92 386.62 87.14 386.68C88.35 386.74 89.57 386.81 90.79 386.89C92.01 386.96 93.23 387.01 94.44 387.12C95.66 387.22 96.88 387.57 98.1 387.53C99.32 387.49 100.53 386.93 101.75 386.88C102.97 386.83 104.19 387.2 105.41 387.23C106.62 387.25 107.84 386.9 109.06 387.04C110.28 387.19 111.5 387.92 112.71 388.1C113.93 388.29 115.15 388.5 116.37 388.15C117.59 387.8 118.8 386.27 120.02 385.98C121.24 385.69 122.46 385.89 123.68 386.42C124.89 386.95 126.11 388.76 127.33 389.17C128.55 389.59 129.77 389.39 130.98 388.9C132.2 388.4 133.42 386.35 134.64 386.2C135.86 386.05 137.07 387.51 138.29 388C139.51 388.49 140.73 388.57 141.95 389.15C143.16 389.72 144.38 391.33 145.6 391.45C146.82 391.57 148.04 390.21 149.25 389.88C150.47 389.56 151.69 388.88 152.91 389.49C154.13 390.11 155.34 392.16 156.56 393.57C157.78 394.97 159 396.65 160.22 397.92C161.43 399.19 162.65 400.91 163.87 401.19C165.09 401.47 166.31 399.96 167.52 399.58C168.74 399.2 169.96 398.53 171.18 398.89C172.4 399.26 173.61 401.75 174.83 401.77C176.05 401.8 177.27 399.37 178.49 399.06C179.7 398.74 180.92 399.67 182.14 399.86C183.36 400.05 184.58 400.28 185.79 400.21C187.01 400.13 188.23 399.86 189.45 399.4C190.67 398.94 191.88 398.52 193.1 397.44C194.32 396.37 195.54 393.56 196.76 392.95C197.97 392.35 199.19 394.07 200.41 393.83C201.63 393.58 202.85 391.68 204.06 391.47C205.28 391.26 206.5 392.52 207.72 392.57C208.94 392.63 210.15 392.58 211.37 391.82C212.59 391.06 213.81 388.68 215.03 388.02C216.24 387.35 217.46 388.66 218.68 387.81C219.9 386.96 221.12 384.29 222.33 382.93C223.55 381.57 224.77 379.78 225.99 379.64C227.21 379.49 228.42 382.24 229.64 382.06C230.86 381.88 232.08 379.08 233.3 378.56C234.51 378.05 235.73 379.36 236.95 378.95C238.17 378.55 239.99 376.59 240.6 376.12" fill="none" stroke="#050505" stroke-width="1.1" stroke-linejoin="round" stroke-linecap="round"/><text x="137.85" y="320.85" font-size="5.58" font-weight="bold" text-anchor="middle" fill="#111" stroke="#111" stroke-width="0.14">Annual Rainfall Anomaly for Sabah (base 1971-2000)</text><text transform="translate(13.7 384.25) rotate(-90)" font-size="4.65" font-weight="bold" text-anchor="middle" fill="#111" stroke="#111" stroke-width="0.15">Rainfall Anomaly (mm)</text><text x="145.6" y="449.9" font-size="4.35" font-weight="bold" text-anchor="middle" fill="#111" stroke="#111" stroke-width="0.15">Year</text></g>
<g><rect x="281.5" y="310.7" width="270.1" height="149.2" fill="#fff" stroke="#6a6a6a" stroke-width="0.9"/><rect x="311.6" y="335.9" width="228.8" height="94.7" fill="#fff" stroke="#b0b0b0" stroke-width="0.8"/><g><rect x="311.65" y="383.25" width="3.53" height="2.79" fill="#e8291e" stroke="#9c1f18" stroke-width="0.5"/><rect x="315.28" y="373.12" width="3.53" height="10.13" fill="#2b60b4" stroke="#183a78" stroke-width="0.5"/><rect x="318.91" y="383.25" width="3.53" height="2.79" fill="#e8291e" stroke="#9c1f18" stroke-width="0.5"/><rect x="322.55" y="358.96" width="3.53" height="24.29" fill="#2b60b4" stroke="#183a78" stroke-width="0.5"/><rect x="326.18" y="355.88" width="3.53" height="27.37" fill="#2b60b4" stroke="#183a78" stroke-width="0.5"/><rect x="329.81" y="368.05" width="3.53" height="15.2" fill="#2b60b4" stroke="#183a78" stroke-width="0.5"/><rect x="333.44" y="383.25" width="3.53" height="3.79" fill="#e8291e" stroke="#9c1f18" stroke-width="0.5"/><rect x="337.07" y="383.25" width="3.53" height="4.55" fill="#e8291e" stroke="#9c1f18" stroke-width="0.5"/><rect x="340.7" y="383.25" width="3.53" height="5.07" fill="#e8291e" stroke="#9c1f18" stroke-width="0.5"/><rect x="344.34" y="383.25" width="3.53" height="3.31" fill="#e8291e" stroke="#9c1f18" stroke-width="0.5"/><rect x="347.97" y="383.25" width="3.53" height="3.79" fill="#e8291e" stroke="#9c1f18" stroke-width="0.5"/><rect x="351.6" y="369.33" width="3.53" height="13.92" fill="#2b60b4" stroke="#183a78" stroke-width="0.5"/><rect x="355.23" y="361.23" width="3.53" height="22.02" fill="#2b60b4" stroke="#183a78" stroke-width="0.5"/><rect x="358.86" y="367.06" width="3.53" height="16.19" fill="#2b60b4" stroke="#183a78" stroke-width="0.5"/><rect x="362.49" y="383.25" width="3.53" height="17.24" fill="#e8291e" stroke="#9c1f18" stroke-width="0.5"/><rect x="366.13" y="376.91" width="3.53" height="6.34" fill="#2b60b4" stroke="#183a78" stroke-width="0.5"/><rect x="369.76" y="381.21" width="3.53" height="2.04" fill="#2b60b4" stroke="#183a78" stroke-width="0.5"/><rect x="373.39" y="378.18" width="3.53" height="5.07" fill="#2b60b4" stroke="#183a78" stroke-width="0.5"/><rect x="377.02" y="370.84" width="3.53" height="12.41" fill="#2b60b4" stroke="#183a78" stroke-width="0.5"/><rect x="380.65" y="376.43" width="3.53" height="6.82" fill="#2b60b4" stroke="#183a78" stroke-width="0.5"/><rect x="384.28" y="358.96" width="3.53" height="24.29" fill="#2b60b4" stroke="#183a78" stroke-width="0.5"/><rect x="387.92" y="383.25" width="3.53" height="34.71" fill="#e8291e" stroke="#9c1f18" stroke-width="0.5"/><rect x="391.55" y="373.12" width="3.53" height="10.13" fill="#2b60b4" stroke="#183a78" stroke-width="0.5"/><rect x="395.18" y="383.25" width="3.53" height="7.1" fill="#e8291e" stroke="#9c1f18" stroke-width="0.5"/><rect x="398.81" y="375.15" width="3.53" height="8.1" fill="#2b60b4" stroke="#183a78" stroke-width="0.5"/><rect x="402.44" y="383.25" width="3.53" height="12.41" fill="#e8291e" stroke="#9c1f18" stroke-width="0.5"/><rect x="406.08" y="361.23" width="3.53" height="22.02" fill="#2b60b4" stroke="#183a78" stroke-width="0.5"/><rect x="409.71" y="383.25" width="3.53" height="2.04" fill="#e8291e" stroke="#9c1f18" stroke-width="0.5"/><rect x="413.34" y="383.25" width="3.53" height="3.31" fill="#e8291e" stroke="#9c1f18" stroke-width="0.5"/><rect x="416.97" y="369.33" width="3.53" height="13.92" fill="#2b60b4" stroke="#183a78" stroke-width="0.5"/><rect x="420.6" y="374.4" width="3.53" height="8.85" fill="#2b60b4" stroke="#183a78" stroke-width="0.5"/><rect x="424.23" y="383.25" width="3.53" height="22.25" fill="#e8291e" stroke="#9c1f18" stroke-width="0.5"/><rect x="427.87" y="368.57" width="3.53" height="14.68" fill="#2b60b4" stroke="#183a78" stroke-width="0.5"/><rect x="431.5" y="370.61" width="3.53" height="12.64" fill="#2b60b4" stroke="#183a78" stroke-width="0.5"/><rect x="435.13" y="383.25" width="3.53" height="8.85" fill="#e8291e" stroke="#9c1f18" stroke-width="0.5"/><rect x="438.76" y="376.91" width="3.53" height="6.34" fill="#2b60b4" stroke="#183a78" stroke-width="0.5"/><rect x="442.39" y="383.25" width="3.53" height="16.95" fill="#e8291e" stroke="#9c1f18" stroke-width="0.5"/><rect x="446.02" y="363.51" width="3.53" height="19.74" fill="#2b60b4" stroke="#183a78" stroke-width="0.5"/><rect x="449.66" y="383.25" width="3.53" height="3.79" fill="#e8291e" stroke="#9c1f18" stroke-width="0.5"/><rect x="453.29" y="383.25" width="3.53" height="25.33" fill="#e8291e" stroke="#9c1f18" stroke-width="0.5"/><rect x="456.92" y="383.25" width="3.53" height="18.23" fill="#e8291e" stroke="#9c1f18" stroke-width="0.5"/><rect x="460.55" y="383.25" width="3.53" height="15.72" fill="#e8291e" stroke="#9c1f18" stroke-width="0.5"/><rect x="464.18" y="383.25" width="3.53" height="13.92" fill="#e8291e" stroke="#9c1f18" stroke-width="0.5"/><rect x="467.82" y="366.77" width="3.53" height="16.48" fill="#2b60b4" stroke="#183a78" stroke-width="0.5"/><rect x="471.45" y="359.2" width="3.53" height="24.05" fill="#2b60b4" stroke="#183a78" stroke-width="0.5"/><rect x="475.08" y="374.4" width="3.53" height="8.85" fill="#2b60b4" stroke="#183a78" stroke-width="0.5"/><rect x="478.71" y="383.25" width="3.53" height="27.37" fill="#e8291e" stroke="#9c1f18" stroke-width="0.5"/><rect x="485.97" y="368.57" width="3.53" height="14.68" fill="#2b60b4" stroke="#183a78" stroke-width="0.5"/><rect x="489.61" y="374.4" width="3.53" height="8.85" fill="#2b60b4" stroke="#183a78" stroke-width="0.5"/><rect x="493.24" y="383.25" width="3.53" height="4.55" fill="#e8291e" stroke="#9c1f18" stroke-width="0.5"/><rect x="496.87" y="382.78" width="3.53" height="0.47" fill="#2b60b4" stroke="#183a78" stroke-width="0.5"/><rect x="500.5" y="359.2" width="3.53" height="24.05" fill="#2b60b4" stroke="#183a78" stroke-width="0.5"/><rect x="504.13" y="366.77" width="3.53" height="16.48" fill="#2b60b4" stroke="#183a78" stroke-width="0.5"/><rect x="507.76" y="383.25" width="3.53" height="2.51" fill="#e8291e" stroke="#9c1f18" stroke-width="0.5"/><rect x="511.4" y="383.25" width="3.53" height="12.17" fill="#e8291e" stroke="#9c1f18" stroke-width="0.5"/><rect x="515.03" y="353.37" width="3.53" height="29.88" fill="#2b60b4" stroke="#183a78" stroke-width="0.5"/><rect x="518.66" y="345.28" width="3.53" height="37.97" fill="#2b60b4" stroke="#183a78" stroke-width="0.5"/><rect x="522.29" y="349.06" width="3.53" height="34.19" fill="#2b60b4" stroke="#183a78" stroke-width="0.5"/><rect x="525.92" y="354.13" width="3.53" height="29.12" fill="#2b60b4" stroke="#183a78" stroke-width="0.5"/><rect x="529.55" y="369.33" width="3.53" height="13.92" fill="#2b60b4" stroke="#183a78" stroke-width="0.5"/><rect x="533.19" y="383.25" width="3.53" height="6.34" fill="#e8291e" stroke="#9c1f18" stroke-width="0.5"/><rect x="536.82" y="380.98" width="3.53" height="2.27" fill="#2b60b4" stroke="#183a78" stroke-width="0.5"/></g><path d="M311.6 335.9V430.6" stroke="#a2a2a2" stroke-width="1.1" fill="none"/><path d="M311.6 383.25H540.4" stroke="#5a5a5a" stroke-width="0.6" fill="none"/><path d="M310 430.6H311.6M310 421.13H311.6M310 411.66H311.6M310 402.19H311.6M310 392.72H311.6M310 383.25H311.6M310 373.78H311.6M310 364.31H311.6M310 354.84H311.6M310 345.37H311.6M310 335.9H311.6" stroke="#a2a2a2" stroke-width="0.7" fill="none"/><g font-size="4.1" fill="#3c3c3c" stroke="#3c3c3c" stroke-width="0.1" filter="url(#sb)"><text transform="translate(307.6 432.35) scale(1 1.18)" text-anchor="end">-1000</text><text transform="translate(307.6 422.88) scale(1 1.18)" text-anchor="end">-800</text><text transform="translate(307.6 413.41) scale(1 1.18)" text-anchor="end">-600</text><text transform="translate(307.6 403.94) scale(1 1.18)" text-anchor="end">-400</text><text transform="translate(307.6 394.47) scale(1 1.18)" text-anchor="end">-200</text><text transform="translate(307.6 385) scale(1 1.18)" text-anchor="end">0</text><text transform="translate(307.6 375.53) scale(1 1.18)" text-anchor="end">200</text><text transform="translate(307.6 366.06) scale(1 1.18)" text-anchor="end">400</text><text transform="translate(307.6 356.59) scale(1 1.18)" text-anchor="end">600</text><text transform="translate(307.6 347.12) scale(1 1.18)" text-anchor="end">800</text><text transform="translate(307.6 337.65) scale(1 1.18)" text-anchor="end">1000</text></g><path d="M311.6 383.25v1.2M315.23 383.25v1.2M318.86 383.25v1.2M322.5 383.25v1.2M326.13 383.25v1.2M329.76 383.25v1.2M333.39 383.25v1.2M337.02 383.25v1.2M340.65 383.25v1.2M344.29 383.25v1.2M347.92 383.25v1.2M351.55 383.25v1.2M355.18 383.25v1.2M358.81 383.25v1.2M362.44 383.25v1.2M366.08 383.25v1.2M369.71 383.25v1.2M373.34 383.25v1.2M376.97 383.25v1.2M380.6 383.25v1.2M384.23 383.25v1.2M387.87 383.25v1.2M391.5 383.25v1.2M395.13 383.25v1.2M398.76 383.25v1.2M402.39 383.25v1.2M406.03 383.25v1.2M409.66 383.25v1.2M413.29 383.25v1.2M416.92 383.25v1.2M420.55 383.25v1.2M424.18 383.25v1.2M427.82 383.25v1.2M431.45 383.25v1.2M435.08 383.25v1.2M438.71 383.25v1.2M442.34 383.25v1.2M445.97 383.25v1.2M449.61 383.25v1.2M453.24 383.25v1.2M456.87 383.25v1.2M460.5 383.25v1.2M464.13 383.25v1.2M467.77 383.25v1.2M471.4 383.25v1.2M475.03 383.25v1.2M478.66 383.25v1.2M482.29 383.25v1.2M485.92 383.25v1.2M489.56 383.25v1.2M493.19 383.25v1.2M496.82 383.25v1.2M500.45 383.25v1.2M504.08 383.25v1.2M507.71 383.25v1.2M511.35 383.25v1.2M514.98 383.25v1.2M518.61 383.25v1.2M522.24 383.25v1.2M525.87 383.25v1.2M529.5 383.25v1.2M533.14 383.25v1.2M536.77 383.25v1.2M540.4 383.25v1.2" stroke="#5a5a5a" stroke-width="0.4" fill="none"/><g font-size="4.15" fill="#3c3c3c" stroke="#3c3c3c" stroke-width="0.1" filter="url(#sb)"><text transform="translate(315.87 433.9) rotate(-90) scale(1 1.18)" text-anchor="end">1951</text><text transform="translate(323.13 433.9) rotate(-90) scale(1 1.18)" text-anchor="end">1953</text><text transform="translate(330.39 433.9) rotate(-90) scale(1 1.18)" text-anchor="end">1955</text><text transform="translate(337.66 433.9) rotate(-90) scale(1 1.18)" text-anchor="end">1957</text><text transform="translate(344.92 433.9) rotate(-90) scale(1 1.18)" text-anchor="end">1959</text><text transform="translate(352.18 433.9) rotate(-90) scale(1 1.18)" text-anchor="end">1961</text><text transform="translate(359.45 433.9) rotate(-90) scale(1 1.18)" text-anchor="end">1963</text><text transform="translate(366.71 433.9) rotate(-90) scale(1 1.18)" text-anchor="end">1965</text><text transform="translate(373.97 433.9) rotate(-90) scale(1 1.18)" text-anchor="end">1967</text><text transform="translate(381.24 433.9) rotate(-90) scale(1 1.18)" text-anchor="end">1969</text><text transform="translate(388.5 433.9) rotate(-90) scale(1 1.18)" text-anchor="end">1971</text><text transform="translate(395.76 433.9) rotate(-90) scale(1 1.18)" text-anchor="end">1973</text><text transform="translate(403.03 433.9) rotate(-90) scale(1 1.18)" text-anchor="end">1975</text><text transform="translate(410.29 433.9) rotate(-90) scale(1 1.18)" text-anchor="end">1977</text><text transform="translate(417.55 433.9) rotate(-90) scale(1 1.18)" text-anchor="end">1979</text><text transform="translate(424.82 433.9) rotate(-90) scale(1 1.18)" text-anchor="end">1981</text><text transform="translate(432.08 433.9) rotate(-90) scale(1 1.18)" text-anchor="end">1983</text><text transform="translate(439.35 433.9) rotate(-90) scale(1 1.18)" text-anchor="end">1985</text><text transform="translate(446.61 433.9) rotate(-90) scale(1 1.18)" text-anchor="end">1987</text><text transform="translate(453.87 433.9) rotate(-90) scale(1 1.18)" text-anchor="end">1989</text><text transform="translate(461.14 433.9) rotate(-90) scale(1 1.18)" text-anchor="end">1991</text><text transform="translate(468.4 433.9) rotate(-90) scale(1 1.18)" text-anchor="end">1993</text><text transform="translate(475.66 433.9) rotate(-90) scale(1 1.18)" text-anchor="end">1995</text><text transform="translate(482.93 433.9) rotate(-90) scale(1 1.18)" text-anchor="end">1997</text><text transform="translate(490.19 433.9) rotate(-90) scale(1 1.18)" text-anchor="end">1999</text><text transform="translate(497.45 433.9) rotate(-90) scale(1 1.18)" text-anchor="end">2001</text><text transform="translate(504.72 433.9) rotate(-90) scale(1 1.18)" text-anchor="end">2003</text><text transform="translate(511.98 433.9) rotate(-90) scale(1 1.18)" text-anchor="end">2005</text><text transform="translate(519.24 433.9) rotate(-90) scale(1 1.18)" text-anchor="end">2007</text><text transform="translate(526.51 433.9) rotate(-90) scale(1 1.18)" text-anchor="end">2009</text><text transform="translate(533.77 433.9) rotate(-90) scale(1 1.18)" text-anchor="end">2011</text><text transform="translate(541.03 433.9) rotate(-90) scale(1 1.18)" text-anchor="end">2013</text></g><path d="M331.57 378.62C332.18 378.37 334 377.54 335.21 377.1C336.42 376.67 337.63 376.49 338.84 376.02C340.05 375.55 341.26 373.96 342.47 374.3C343.68 374.64 344.89 377.12 346.1 378.07C347.31 379.02 348.52 379.46 349.73 379.98C350.94 380.5 352.15 381.11 353.37 381.18C354.58 381.24 355.79 380.77 357 380.37C358.21 379.98 359.42 379.27 360.63 378.83C361.84 378.4 363.05 378.35 364.26 377.75C365.47 377.15 366.68 375.19 367.89 375.24C369.1 375.29 370.31 377.53 371.52 378.05C372.73 378.58 373.94 377.9 375.16 378.4C376.37 378.9 377.58 380.48 378.79 381.05C380 381.61 381.21 381.73 382.42 381.78C383.63 381.83 384.84 381.65 386.05 381.34C387.26 381.03 388.47 380.09 389.68 379.92C390.89 379.74 392.1 380.1 393.31 380.29C394.52 380.48 395.74 380.95 396.95 381.05C398.16 381.15 399.37 380.97 400.58 380.91C401.79 380.86 403 380.05 404.21 380.73C405.42 381.4 406.63 385 407.84 384.96C409.05 384.92 410.26 381.26 411.47 380.47C412.68 379.68 413.89 380.25 415.1 380.24C416.32 380.23 417.53 380.35 418.74 380.4C419.95 380.45 421.16 380.46 422.37 380.56C423.58 380.66 424.79 380.87 426 380.97C427.21 381.08 428.42 381.12 429.63 381.18C430.84 381.24 432.05 380.98 433.26 381.34C434.47 381.7 435.68 382.52 436.9 383.34C438.11 384.16 439.32 385.4 440.53 386.26C441.74 387.12 442.95 388.25 444.16 388.5C445.37 388.74 446.58 387.89 447.79 387.74C449 387.59 450.21 387.78 451.42 387.58C452.63 387.38 453.84 386.98 455.05 386.54C456.26 386.1 457.48 384.69 458.69 384.93C459.9 385.17 461.11 387.74 462.32 387.99C463.53 388.25 464.74 386.63 465.95 386.45C467.16 386.27 468.37 387.03 469.58 386.91C470.79 386.8 472 386.27 473.21 385.76C474.42 385.26 475.63 384.47 476.84 383.87C478.06 383.28 479.27 383.06 480.48 382.17C481.69 381.29 482.9 379.62 484.11 378.56C485.32 377.49 486.53 375.97 487.74 375.79C488.95 375.62 490.16 376.68 491.37 377.52C492.58 378.36 493.79 380.58 495 380.81C496.21 381.04 497.42 380.21 498.63 378.9C499.85 377.59 501.06 374.47 502.27 372.96C503.48 371.45 504.69 370.59 505.9 369.85C507.11 369.12 508.32 368.84 509.53 368.54C510.74 368.25 511.95 368.13 513.16 368.08C514.37 368.03 515.58 368.24 516.79 368.24C518 368.24 519.82 368.11 520.43 368.08" fill="none" stroke="#050505" stroke-width="1.1" stroke-linejoin="round" stroke-linecap="round"/><text x="417.2" y="320.85" font-size="5.58" font-weight="bold" text-anchor="middle" fill="#111" stroke="#111" stroke-width="0.14">Annual Rainfall Anomaly for Sarawak (base 1971-2000)</text><text transform="translate(293.9 384.25) rotate(-90)" font-size="4.65" font-weight="bold" text-anchor="middle" fill="#111" stroke="#111" stroke-width="0.15">Rainfall Anomaly (mm)</text><text x="426" y="449.9" font-size="4.35" font-weight="bold" text-anchor="middle" fill="#111" stroke="#111" stroke-width="0.15">Year</text></g>
<g><rect x="157.5" y="471.4" width="270.5" height="149.1" fill="#fff" stroke="#6a6a6a" stroke-width="0.9"/><rect x="187.4" y="496.4" width="229.3" height="94.8" fill="#fff" stroke="#b0b0b0" stroke-width="0.8"/><g><rect x="187.45" y="534.23" width="3.54" height="22.49" fill="#2b60b4" stroke="#183a78" stroke-width="0.5"/><rect x="194.73" y="556.73" width="3.54" height="5.56" fill="#e8291e" stroke="#9c1f18" stroke-width="0.5"/><rect x="198.37" y="556.73" width="3.54" height="2.54" fill="#e8291e" stroke="#9c1f18" stroke-width="0.5"/><rect x="202.01" y="553.45" width="3.54" height="3.27" fill="#2b60b4" stroke="#183a78" stroke-width="0.5"/><rect x="205.65" y="531.69" width="3.54" height="25.04" fill="#2b60b4" stroke="#183a78" stroke-width="0.5"/><rect x="209.29" y="550.39" width="3.54" height="6.33" fill="#2b60b4" stroke="#183a78" stroke-width="0.5"/><rect x="212.93" y="556.73" width="3.54" height="20.25" fill="#e8291e" stroke="#9c1f18" stroke-width="0.5"/><rect x="216.57" y="556.73" width="3.54" height="6.81" fill="#e8291e" stroke="#9c1f18" stroke-width="0.5"/><rect x="220.21" y="556.73" width="3.54" height="6.81" fill="#e8291e" stroke="#9c1f18" stroke-width="0.5"/><rect x="223.85" y="556.73" width="3.54" height="3.02" fill="#e8291e" stroke="#9c1f18" stroke-width="0.5"/><rect x="227.49" y="536.99" width="3.54" height="19.74" fill="#2b60b4" stroke="#183a78" stroke-width="0.5"/><rect x="231.13" y="556.73" width="3.54" height="18.23" fill="#e8291e" stroke="#9c1f18" stroke-width="0.5"/><rect x="234.77" y="556.73" width="3.54" height="6.81" fill="#e8291e" stroke="#9c1f18" stroke-width="0.5"/><rect x="238.41" y="547.64" width="3.54" height="9.09" fill="#2b60b4" stroke="#183a78" stroke-width="0.5"/><rect x="242.05" y="538.5" width="3.54" height="18.23" fill="#2b60b4" stroke="#183a78" stroke-width="0.5"/><rect x="245.68" y="556.73" width="3.54" height="17.71" fill="#e8291e" stroke="#9c1f18" stroke-width="0.5"/><rect x="249.32" y="556.73" width="3.54" height="19.48" fill="#e8291e" stroke="#9c1f18" stroke-width="0.5"/><rect x="252.96" y="550.13" width="3.54" height="6.59" fill="#2b60b4" stroke="#183a78" stroke-width="0.5"/><rect x="256.6" y="548.88" width="3.54" height="7.84" fill="#2b60b4" stroke="#183a78" stroke-width="0.5"/><rect x="260.24" y="548.37" width="3.54" height="8.36" fill="#2b60b4" stroke="#183a78" stroke-width="0.5"/><rect x="263.88" y="545.35" width="3.54" height="11.38" fill="#2b60b4" stroke="#183a78" stroke-width="0.5"/><rect x="267.52" y="548.37" width="3.54" height="8.36" fill="#2b60b4" stroke="#183a78" stroke-width="0.5"/><rect x="271.16" y="556.73" width="3.54" height="9.35" fill="#e8291e" stroke="#9c1f18" stroke-width="0.5"/><rect x="274.8" y="545.87" width="3.54" height="10.86" fill="#2b60b4" stroke="#183a78" stroke-width="0.5"/><rect x="278.44" y="556.73" width="3.54" height="6.81" fill="#e8291e" stroke="#9c1f18" stroke-width="0.5"/><rect x="282.08" y="556.73" width="3.54" height="21.24" fill="#e8291e" stroke="#9c1f18" stroke-width="0.5"/><rect x="285.72" y="556.73" width="3.54" height="16.93" fill="#e8291e" stroke="#9c1f18" stroke-width="0.5"/><rect x="289.36" y="556.73" width="3.54" height="11.12" fill="#e8291e" stroke="#9c1f18" stroke-width="0.5"/><rect x="293" y="556.73" width="3.54" height="4.31" fill="#e8291e" stroke="#9c1f18" stroke-width="0.5"/><rect x="296.64" y="556.73" width="3.54" height="19.48" fill="#e8291e" stroke="#9c1f18" stroke-width="0.5"/><rect x="300.28" y="556.73" width="3.54" height="0.86" fill="#fff" stroke="#8a8a8a" stroke-width="0.5"/><rect x="303.92" y="556.73" width="3.54" height="25.29" fill="#e8291e" stroke="#9c1f18" stroke-width="0.5"/><rect x="307.56" y="544.1" width="3.54" height="12.63" fill="#2b60b4" stroke="#183a78" stroke-width="0.5"/><rect x="311.2" y="556.08" width="3.54" height="0.65" fill="#2b60b4" stroke="#183a78" stroke-width="0.5"/><rect x="314.84" y="556.73" width="3.54" height="18.23" fill="#e8291e" stroke="#9c1f18" stroke-width="0.5"/><rect x="318.48" y="556.73" width="3.54" height="5.56" fill="#e8291e" stroke="#9c1f18" stroke-width="0.5"/><rect x="322.12" y="547.38" width="3.54" height="9.35" fill="#2b60b4" stroke="#183a78" stroke-width="0.5"/><rect x="325.76" y="555.43" width="3.54" height="1.29" fill="#2b60b4" stroke="#183a78" stroke-width="0.5"/><rect x="329.4" y="556.73" width="3.54" height="14.91" fill="#e8291e" stroke="#9c1f18" stroke-width="0.5"/><rect x="333.04" y="556.73" width="3.54" height="3.02" fill="#e8291e" stroke="#9c1f18" stroke-width="0.5"/><rect x="336.68" y="556.73" width="3.54" height="14.39" fill="#e8291e" stroke="#9c1f18" stroke-width="0.5"/><rect x="340.32" y="539.53" width="3.54" height="17.19" fill="#2b60b4" stroke="#183a78" stroke-width="0.5"/><rect x="347.6" y="540.31" width="3.54" height="16.42" fill="#2b60b4" stroke="#183a78" stroke-width="0.5"/><rect x="351.24" y="536.47" width="3.54" height="20.25" fill="#2b60b4" stroke="#183a78" stroke-width="0.5"/><rect x="354.88" y="556.73" width="3.54" height="1.29" fill="#e8291e" stroke="#9c1f18" stroke-width="0.5"/><rect x="358.52" y="556.73" width="3.54" height="11.12" fill="#e8291e" stroke="#9c1f18" stroke-width="0.5"/><rect x="362.15" y="515.02" width="3.54" height="41.71" fill="#2b60b4" stroke="#183a78" stroke-width="0.5"/><rect x="365.79" y="536.47" width="3.54" height="20.25" fill="#2b60b4" stroke="#183a78" stroke-width="0.5"/><rect x="369.43" y="556.73" width="3.54" height="0.43" fill="#e8291e" stroke="#9c1f18" stroke-width="0.5"/><rect x="376.71" y="549.66" width="3.54" height="7.07" fill="#2b60b4" stroke="#183a78" stroke-width="0.5"/><rect x="380.35" y="556.73" width="3.54" height="9.87" fill="#e8291e" stroke="#9c1f18" stroke-width="0.5"/><rect x="383.99" y="556.73" width="3.54" height="1.29" fill="#e8291e" stroke="#9c1f18" stroke-width="0.5"/><rect x="387.63" y="552.94" width="3.54" height="3.79" fill="#2b60b4" stroke="#183a78" stroke-width="0.5"/><rect x="391.27" y="545.35" width="3.54" height="11.38" fill="#2b60b4" stroke="#183a78" stroke-width="0.5"/><rect x="394.91" y="506.66" width="3.54" height="50.07" fill="#2b60b4" stroke="#183a78" stroke-width="0.5"/><rect x="398.55" y="542.81" width="3.54" height="13.92" fill="#2b60b4" stroke="#183a78" stroke-width="0.5"/><rect x="402.19" y="556.73" width="3.54" height="8.1" fill="#e8291e" stroke="#9c1f18" stroke-width="0.5"/><rect x="405.83" y="532.47" width="3.54" height="24.26" fill="#2b60b4" stroke="#183a78" stroke-width="0.5"/><rect x="409.47" y="547.12" width="3.54" height="9.61" fill="#2b60b4" stroke="#183a78" stroke-width="0.5"/><rect x="413.11" y="553.45" width="3.54" height="3.27" fill="#2b60b4" stroke="#183a78" stroke-width="0.5"/></g><path d="M187.4 496.4V591.2" stroke="#686868" stroke-width="0.9" fill="none"/><path d="M187.4 556.73H416.7" stroke="#5a5a5a" stroke-width="0.6" fill="none"/><path d="M185.8 591.2H187.4M185.8 582.58H187.4M185.8 573.96H187.4M185.8 565.35H187.4M185.8 556.73H187.4M185.8 548.11H187.4M185.8 539.49H187.4M185.8 530.87H187.4M185.8 522.25H187.4M185.8 513.64H187.4M185.8 505.02H187.4M185.8 496.4H187.4" stroke="#686868" stroke-width="0.7" fill="none"/><g font-size="4.1" fill="#1a1a1a" stroke="#1a1a1a" stroke-width="0.1" filter="url(#sb)"><text transform="translate(183.4 592.95) scale(1 1.18)" text-anchor="end">-800</text><text transform="translate(183.4 584.33) scale(1 1.18)" text-anchor="end">-600</text><text transform="translate(183.4 575.71) scale(1 1.18)" text-anchor="end">-400</text><text transform="translate(183.4 567.1) scale(1 1.18)" text-anchor="end">-200</text><text transform="translate(183.4 558.48) scale(1 1.18)" text-anchor="end">0</text><text transform="translate(183.4 549.86) scale(1 1.18)" text-anchor="end">200</text><text transform="translate(183.4 541.24) scale(1 1.18)" text-anchor="end">400</text><text transform="translate(183.4 532.62) scale(1 1.18)" text-anchor="end">600</text><text transform="translate(183.4 524) scale(1 1.18)" text-anchor="end">800</text><text transform="translate(183.4 515.39) scale(1 1.18)" text-anchor="end">1000</text><text transform="translate(183.4 506.77) scale(1 1.18)" text-anchor="end">1200</text><text transform="translate(183.4 498.15) scale(1 1.18)" text-anchor="end">1400</text></g><path d="M187.4 556.73v1.2M191.04 556.73v1.2M194.68 556.73v1.2M198.32 556.73v1.2M201.96 556.73v1.2M205.6 556.73v1.2M209.24 556.73v1.2M212.88 556.73v1.2M216.52 556.73v1.2M220.16 556.73v1.2M223.8 556.73v1.2M227.44 556.73v1.2M231.08 556.73v1.2M234.72 556.73v1.2M238.36 556.73v1.2M242 556.73v1.2M245.63 556.73v1.2M249.27 556.73v1.2M252.91 556.73v1.2M256.55 556.73v1.2M260.19 556.73v1.2M263.83 556.73v1.2M267.47 556.73v1.2M271.11 556.73v1.2M274.75 556.73v1.2M278.39 556.73v1.2M282.03 556.73v1.2M285.67 556.73v1.2M289.31 556.73v1.2M292.95 556.73v1.2M296.59 556.73v1.2M300.23 556.73v1.2M303.87 556.73v1.2M307.51 556.73v1.2M311.15 556.73v1.2M314.79 556.73v1.2M318.43 556.73v1.2M322.07 556.73v1.2M325.71 556.73v1.2M329.35 556.73v1.2M332.99 556.73v1.2M336.63 556.73v1.2M340.27 556.73v1.2M343.91 556.73v1.2M347.55 556.73v1.2M351.19 556.73v1.2M354.83 556.73v1.2M358.47 556.73v1.2M362.1 556.73v1.2M365.74 556.73v1.2M369.38 556.73v1.2M373.02 556.73v1.2M376.66 556.73v1.2M380.3 556.73v1.2M383.94 556.73v1.2M387.58 556.73v1.2M391.22 556.73v1.2M394.86 556.73v1.2M398.5 556.73v1.2M402.14 556.73v1.2M405.78 556.73v1.2M409.42 556.73v1.2M413.06 556.73v1.2M416.7 556.73v1.2" stroke="#5a5a5a" stroke-width="0.4" fill="none"/><g font-size="4.15" fill="#1a1a1a" stroke="#1a1a1a" stroke-width="0.1" filter="url(#sb)"><text transform="translate(191.67 594.5) rotate(-90) scale(1 1.18)" text-anchor="end">1951</text><text transform="translate(198.95 594.5) rotate(-90) scale(1 1.18)" text-anchor="end">1953</text><text transform="translate(206.23 594.5) rotate(-90) scale(1 1.18)" text-anchor="end">1955</text><text transform="translate(213.51 594.5) rotate(-90) scale(1 1.18)" text-anchor="end">1957</text><text transform="translate(220.79 594.5) rotate(-90) scale(1 1.18)" text-anchor="end">1959</text><text transform="translate(228.07 594.5) rotate(-90) scale(1 1.18)" text-anchor="end">1961</text><text transform="translate(235.35 594.5) rotate(-90) scale(1 1.18)" text-anchor="end">1963</text><text transform="translate(242.63 594.5) rotate(-90) scale(1 1.18)" text-anchor="end">1965</text><text transform="translate(249.9 594.5) rotate(-90) scale(1 1.18)" text-anchor="end">1967</text><text transform="translate(257.18 594.5) rotate(-90) scale(1 1.18)" text-anchor="end">1969</text><text transform="translate(264.46 594.5) rotate(-90) scale(1 1.18)" text-anchor="end">1971</text><text transform="translate(271.74 594.5) rotate(-90) scale(1 1.18)" text-anchor="end">1973</text><text transform="translate(279.02 594.5) rotate(-90) scale(1 1.18)" text-anchor="end">1975</text><text transform="translate(286.3 594.5) rotate(-90) scale(1 1.18)" text-anchor="end">1977</text><text transform="translate(293.58 594.5) rotate(-90) scale(1 1.18)" text-anchor="end">1979</text><text transform="translate(300.86 594.5) rotate(-90) scale(1 1.18)" text-anchor="end">1981</text><text transform="translate(308.14 594.5) rotate(-90) scale(1 1.18)" text-anchor="end">1983</text><text transform="translate(315.42 594.5) rotate(-90) scale(1 1.18)" text-anchor="end">1985</text><text transform="translate(322.7 594.5) rotate(-90) scale(1 1.18)" text-anchor="end">1987</text><text transform="translate(329.98 594.5) rotate(-90) scale(1 1.18)" text-anchor="end">1989</text><text transform="translate(337.26 594.5) rotate(-90) scale(1 1.18)" text-anchor="end">1991</text><text transform="translate(344.54 594.5) rotate(-90) scale(1 1.18)" text-anchor="end">1993</text><text transform="translate(351.82 594.5) rotate(-90) scale(1 1.18)" text-anchor="end">1995</text><text transform="translate(359.1 594.5) rotate(-90) scale(1 1.18)" text-anchor="end">1997</text><text transform="translate(366.37 594.5) rotate(-90) scale(1 1.18)" text-anchor="end">1999</text><text transform="translate(373.65 594.5) rotate(-90) scale(1 1.18)" text-anchor="end">2001</text><text transform="translate(380.93 594.5) rotate(-90) scale(1 1.18)" text-anchor="end">2003</text><text transform="translate(388.21 594.5) rotate(-90) scale(1 1.18)" text-anchor="end">2005</text><text transform="translate(395.49 594.5) rotate(-90) scale(1 1.18)" text-anchor="end">2007</text><text transform="translate(402.77 594.5) rotate(-90) scale(1 1.18)" text-anchor="end">2009</text><text transform="translate(410.05 594.5) rotate(-90) scale(1 1.18)" text-anchor="end">2011</text><text transform="translate(417.33 594.5) rotate(-90) scale(1 1.18)" text-anchor="end">2013</text></g><path d="M211.06 555.62C211.66 555.66 213.48 555.56 214.7 555.87C215.91 556.19 217.12 557.24 218.34 557.53C219.55 557.83 220.76 557.8 221.98 557.64C223.19 557.49 224.4 556.99 225.62 556.59C226.83 556.18 228.04 554.81 229.26 555.23C230.47 555.65 231.68 558.07 232.9 559.11C234.11 560.15 235.32 561.48 236.54 561.46C237.75 561.44 238.96 559.65 240.18 559.02C241.39 558.39 242.6 558.14 243.82 557.69C245.03 557.24 246.24 556.76 247.45 556.31C248.67 555.86 249.88 555.05 251.09 555C252.31 554.95 253.52 556 254.73 556.03C255.95 556.07 257.16 555.63 258.37 555.23C259.59 554.82 260.8 553.65 262.01 553.62C263.23 553.59 264.44 554.23 265.65 555.07C266.87 555.91 268.08 558.07 269.29 558.65C270.51 559.24 271.72 558.72 272.93 558.58C274.15 558.45 275.36 557.79 276.57 557.82C277.79 557.86 279 558.24 280.21 558.82C281.43 559.39 282.64 560.75 283.85 561.3C285.06 561.85 286.28 561.44 287.49 562.14C288.7 562.83 289.92 564.98 291.13 565.47C292.34 565.96 293.56 565.3 294.77 565.08C295.98 564.87 297.2 563.88 298.41 564.17C299.62 564.46 300.84 566.4 302.05 566.82C303.26 567.24 304.48 567.19 305.69 566.7C306.9 566.22 308.12 564.66 309.33 563.92C310.54 563.18 311.76 562.49 312.97 562.27C314.18 562.05 315.4 562.57 316.61 562.61C317.82 562.65 319.04 562.59 320.25 562.49C321.46 562.4 322.67 562.38 323.89 562.03C325.1 561.68 326.31 561.05 327.53 560.39C328.74 559.73 329.95 558.53 331.17 558.09C332.38 557.65 333.59 558.1 334.81 557.75C336.02 557.39 337.23 556.52 338.45 555.96C339.66 555.41 340.87 554.6 342.09 554.42C343.3 554.25 344.51 555.34 345.73 554.93C346.94 554.52 348.15 552.76 349.37 551.99C350.58 551.21 351.79 550.77 353.01 550.26C354.22 549.76 355.43 549.21 356.65 548.95C357.86 548.68 359.07 549.04 360.28 548.67C361.5 548.3 362.71 546.64 363.92 546.72C365.14 546.81 366.35 548.75 367.56 549.18C368.78 549.61 369.99 549.09 371.2 549.3C372.42 549.51 373.63 550.12 374.84 550.45C376.06 550.77 377.27 551.9 378.48 551.25C379.7 550.61 380.91 547.74 382.12 546.59C383.34 545.43 384.55 543.93 385.76 544.31C386.98 544.68 388.19 548.14 389.4 548.84C390.62 549.53 391.83 548.69 393.04 548.47C394.26 548.26 395.47 547.76 396.68 547.56C397.89 547.36 399.71 547.31 400.32 547.26" fill="none" stroke="#050505" stroke-width="1.1" stroke-linejoin="round" stroke-linecap="round"/><text x="293.7" y="481.3" font-size="5.58" font-weight="bold" text-anchor="middle" fill="#111" stroke="#111" stroke-width="0.14">Annual Rainfall Anomaly for Cameron Highlands (base 1971-2000)</text><text transform="translate(169.9 544.8) rotate(-90)" font-size="4.65" font-weight="bold" text-anchor="middle" fill="#111" stroke="#111" stroke-width="0.15">Rainfall Anomaly (mm)</text><text x="302.05" y="610.5" font-size="4.35" font-weight="bold" text-anchor="middle" fill="#111" stroke="#111" stroke-width="0.15">Year</text></g>
<text x="296.5" y="636.8" font-size="10.6" font-weight="bold" text-anchor="middle" fill="#0a0a0a" stroke="#0a0a0a" stroke-width="0.4" textLength="210.5" lengthAdjust="spacingAndGlyphs">11-years running averages shown by black curve</text>
</svg>
</body></html>
